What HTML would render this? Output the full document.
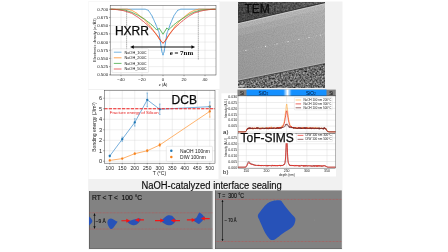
<!DOCTYPE html>
<html><head><meta charset="utf-8"><title>NaOH-catalyzed interface sealing</title>
<style>
html,body{margin:0;padding:0;background:#fff;}
body{width:448px;height:252px;overflow:hidden;}
svg{display:block;position:absolute;left:0;top:0;}
text{font-family:"Liberation Sans",sans-serif;fill:#1a1a1a;}
.ser{font-family:"Liberation Serif",serif;font-weight:bold;}
.t3{font-size:4.4px;}
.t4{font-size:5px;}
.t5{font-size:5.6px;}
.grid{stroke:#d4d4d4;stroke-width:0.4;fill:none;}
.ax{stroke:#444;stroke-width:0.5;fill:none;}
.big{font-size:12px;fill:#0a0a0a;stroke:#0a0a0a;stroke-width:0.25;}
.c{fill:none;stroke-linejoin:round;}
</style></head><body>
<svg width="448" height="252" viewBox="0 0 448 252">
<defs>
<filter id="noise" x="0" y="0" width="100%" height="100%">
<feTurbulence type="fractalNoise" baseFrequency="0.9" numOctaves="2" seed="3" result="n"/>
<feColorMatrix in="n" type="matrix" values="0 0 0 0 0  0 0 0 0 0  0 0 0 0 0  1.6 0 0 0 -0.45"/>
<feComposite in2="SourceGraphic" operator="in"/>
</filter>
<filter id="mot" x="0" y="0" width="100%" height="100%" color-interpolation-filters="sRGB">
<feTurbulence type="fractalNoise" baseFrequency="0.55" numOctaves="2" seed="7" result="n"/>
<feGaussianBlur in="n" stdDeviation="0.55" result="nb"/>
<feColorMatrix in="nb" type="matrix" values="0.95 0 0 0 -0.03  0.95 0 0 0 -0.03  0.95 0 0 0 -0.03  0 0 0 0 1"/>
<feComposite in2="SourceGraphic" operator="in"/>
</filter>
<filter id="mot2" x="0" y="0" width="100%" height="100%" color-interpolation-filters="sRGB">
<feTurbulence type="fractalNoise" baseFrequency="0.55" numOctaves="2" seed="11" result="n"/>
<feColorMatrix in="n" type="matrix" values="0.45 0 0 0 0.16  0.45 0 0 0 0.16  0.45 0 0 0 0.16  0 0 0 0 1"/>
<feComposite in2="SourceGraphic" operator="in"/>
</filter>
<linearGradient id="temg" x1="0" y1="1" x2="1" y2="0">
<stop offset="0" stop-color="#9a9a9a"/><stop offset="0.5" stop-color="#a6a6a6"/><stop offset="1" stop-color="#b4b4b4"/>
</linearGradient>
<linearGradient id="dk" x1="0" y1="0" x2="1" y2="0"><stop offset="0" stop-color="#000" stop-opacity="0.3"/><stop offset="0.6" stop-color="#000" stop-opacity="0.12"/><stop offset="1" stop-color="#000" stop-opacity="0"/></linearGradient>
<linearGradient id="glow" x1="0" x2="1" y1="0" y2="0">
<stop offset="0" stop-color="#1490ff"/><stop offset="0.46" stop-color="#1490ff"/><stop offset="0.512" stop-color="#ffffff"/><stop offset="0.565" stop-color="#1490ff"/><stop offset="1" stop-color="#1490ff"/>
</linearGradient>
<clipPath id="temclip"><rect x="238" y="2" width="87" height="86"/></clipPath>
<clipPath id="hx"><rect x="110.2" y="5.5" width="105.8" height="69.5"/></clipPath>
<clipPath id="dcbc"><rect x="104.4" y="90.5" width="110.6" height="72.7"/></clipPath>
<clipPath id="ta"><rect x="238" y="95.7" width="97.6" height="37.6"/></clipPath>
<clipPath id="tb"><rect x="238" y="133.3" width="97.6" height="35.2"/></clipPath>
<marker id="ah" viewBox="0 0 10 10" refX="9" refY="5" markerWidth="4" markerHeight="4" orient="auto-start-reverse"><path d="M0,0L10,5L0,10z" fill="#111"/></marker>
<marker id="rh" viewBox="0 0 10 10" refX="9" refY="5" markerWidth="3.2" markerHeight="3.2" orient="auto-start-reverse"><path d="M0,0L10,5L0,10z" fill="#f01818"/></marker>
</defs>

<rect x="88.2" y="1.5" width="254.3" height="248" fill="#f1f1f1"/>
<rect x="88.5" y="2" width="131" height="87" fill="#fff"/>
<line class="grid" x1="121.00" y1="5.5" x2="121.00" y2="75"/>
<line class="grid" x1="142.00" y1="5.5" x2="142.00" y2="75"/>
<line class="grid" x1="163.00" y1="5.5" x2="163.00" y2="75"/>
<line class="grid" x1="184.00" y1="5.5" x2="184.00" y2="75"/>
<line class="grid" x1="205.00" y1="5.5" x2="205.00" y2="75"/>
<line class="grid" x1="110.2" y1="74.85" x2="216" y2="74.85"/>
<line class="grid" x1="110.2" y1="66.65" x2="216" y2="66.65"/>
<line class="grid" x1="110.2" y1="58.45" x2="216" y2="58.45"/>
<line class="grid" x1="110.2" y1="50.25" x2="216" y2="50.25"/>
<line class="grid" x1="110.2" y1="42.05" x2="216" y2="42.05"/>
<line class="grid" x1="110.2" y1="33.85" x2="216" y2="33.85"/>
<line class="grid" x1="110.2" y1="25.65" x2="216" y2="25.65"/>
<line class="grid" x1="110.2" y1="17.45" x2="216" y2="17.45"/>
<line class="grid" x1="110.2" y1="9.25" x2="216" y2="9.25"/>
<path class="c" d="M110.5,9.2 L111.0,9.2 L111.5,9.2 L112.1,9.2 L112.6,9.2 L113.1,9.2 L113.7,9.2 L114.2,9.2 L114.7,9.2 L115.2,9.2 L115.8,9.2 L116.3,9.2 L116.8,9.2 L117.3,9.2 L117.8,9.2 L118.4,9.2 L118.9,9.2 L119.4,9.2 L119.9,9.2 L120.5,9.2 L121.0,9.2 L121.5,9.2 L122.0,9.2 L122.6,9.2 L123.1,9.2 L123.6,9.2 L124.2,9.2 L124.7,9.2 L125.2,9.2 L125.7,9.2 L126.2,9.2 L126.8,9.2 L127.3,9.2 L127.8,9.2 L128.3,9.2 L128.9,9.2 L129.4,9.2 L129.9,9.2 L130.4,9.2 L131.0,9.2 L131.5,9.2 L132.0,9.2 L132.6,9.2 L133.1,9.2 L133.6,9.2 L134.1,9.2 L134.7,9.2 L135.2,9.2 L135.7,9.2 L136.2,9.2 L136.8,9.2 L137.3,9.2 L137.8,9.2 L138.3,9.2 L138.8,9.2 L139.4,9.2 L139.9,9.2 L140.4,9.2 L140.9,9.2 L141.5,9.2 L142.0,9.2 L142.5,9.2 L143.1,9.2 L143.6,9.2 L144.1,9.2 L144.6,9.2 L145.2,9.2 L145.7,9.4 L146.2,9.6 L146.7,9.7 L147.2,9.9 L147.8,10.1 L148.3,10.2 L148.8,11.0 L149.3,11.8 L149.9,12.6 L150.4,13.4 L150.9,14.2 L151.4,15.0 L152.0,15.8 L152.5,17.0 L153.0,18.2 L153.6,19.3 L154.1,20.5 L154.6,21.7 L155.1,22.8 L155.7,24.0 L156.2,25.3 L156.7,26.6 L157.2,27.9 L157.8,29.1 L158.3,30.5 L158.8,31.8 L159.3,33.7 L159.8,37.9 L160.4,42.0 L160.9,45.3 L161.4,48.6 L161.9,51.9 L162.5,53.5 L163.0,55.2 L163.5,53.5 L164.1,51.9 L164.6,48.6 L165.1,45.3 L165.6,42.0 L166.2,38.2 L166.7,34.3 L167.2,32.6 L167.7,31.4 L168.2,30.0 L168.8,28.5 L169.3,27.0 L169.8,25.5 L170.3,24.0 L170.9,22.8 L171.4,21.6 L171.9,20.4 L172.4,19.1 L173.0,17.9 L173.5,16.7 L174.0,15.5 L174.6,14.7 L175.1,14.0 L175.6,13.2 L176.1,12.5 L176.7,11.7 L177.2,11.0 L177.7,10.2 L178.2,10.1 L178.8,9.9 L179.3,9.7 L179.8,9.6 L180.3,9.4 L180.8,9.2 L181.4,9.2 L181.9,9.2 L182.4,9.2 L182.9,9.2 L183.5,9.2 L184.0,9.2 L184.5,9.2 L185.1,9.2 L185.6,9.2 L186.1,9.2 L186.6,9.2 L187.2,9.2 L187.7,9.2 L188.2,9.2 L188.7,9.2 L189.2,9.2 L189.8,9.2 L190.3,9.2 L190.8,9.2 L191.3,9.2 L191.9,9.2 L192.4,9.2 L192.9,9.2 L193.4,9.2 L194.0,9.2 L194.5,9.2 L195.0,9.2 L195.6,9.2 L196.1,9.2 L196.6,9.2 L197.1,9.2 L197.7,9.2 L198.2,9.2 L198.7,9.2 L199.2,9.2 L199.8,9.2 L200.3,9.2 L200.8,9.2 L201.3,9.2 L201.8,9.2 L202.4,9.2 L202.9,9.2 L203.4,9.2 L203.9,9.2 L204.5,9.2 L205.0,9.2 L205.5,9.2 L206.1,9.2 L206.6,9.2 L207.1,9.2 L207.6,9.2 L208.2,9.2 L208.7,9.2 L209.2,9.2 L209.7,9.2 L210.2,9.2 L210.8,9.2 L211.3,9.2 L211.8,9.2 L212.3,9.2 L212.9,9.2 L213.4,9.2 L213.9,9.2 L214.4,9.2 L215.0,9.2 L215.5,9.2" stroke="#4a9bd6" stroke-width="0.9" clip-path="url(#hx)"/>
<path class="c" d="M110.5,9.2 L111.0,9.2 L111.5,9.2 L112.1,9.2 L112.6,9.2 L113.1,9.2 L113.7,9.2 L114.2,9.2 L114.7,9.2 L115.2,9.2 L115.8,9.2 L116.3,9.2 L116.8,9.2 L117.3,9.2 L117.8,9.2 L118.4,9.2 L118.9,9.2 L119.4,9.2 L119.9,9.2 L120.5,9.2 L121.0,9.2 L121.5,9.2 L122.0,9.2 L122.6,9.2 L123.1,9.2 L123.6,9.2 L124.2,9.2 L124.7,9.2 L125.2,9.2 L125.7,9.2 L126.2,9.2 L126.8,9.2 L127.3,9.2 L127.8,9.4 L128.3,9.5 L128.9,9.6 L129.4,9.7 L129.9,9.9 L130.4,10.0 L131.0,10.1 L131.5,10.2 L132.0,10.5 L132.6,10.8 L133.1,11.1 L133.6,11.4 L134.1,11.7 L134.7,12.0 L135.2,12.3 L135.7,12.6 L136.2,12.9 L136.8,13.2 L137.3,13.6 L137.8,14.1 L138.3,14.5 L138.8,15.0 L139.4,15.4 L139.9,15.9 L140.4,16.3 L140.9,16.7 L141.5,17.2 L142.0,17.6 L142.5,18.1 L143.1,18.5 L143.6,19.0 L144.1,19.4 L144.6,20.0 L145.2,20.6 L145.7,21.1 L146.2,21.7 L146.7,22.3 L147.2,22.9 L147.8,23.4 L148.3,24.0 L148.8,24.6 L149.3,25.2 L149.9,25.7 L150.4,26.3 L150.9,27.0 L151.4,27.7 L152.0,28.5 L152.5,29.2 L153.0,29.9 L153.6,30.6 L154.1,31.4 L154.6,32.1 L155.1,32.8 L155.7,33.5 L156.2,34.3 L156.7,35.1 L157.2,35.9 L157.8,36.6 L158.3,37.4 L158.8,38.2 L159.3,39.0 L159.8,39.8 L160.4,40.3 L160.9,40.8 L161.4,41.4 L161.9,41.9 L162.5,42.5 L163.0,43.0 L163.5,42.5 L164.1,41.9 L164.6,41.4 L165.1,40.8 L165.6,40.3 L166.2,39.8 L166.7,38.9 L167.2,38.0 L167.7,37.2 L168.2,36.3 L168.8,35.4 L169.3,34.6 L169.8,33.7 L170.3,32.9 L170.9,32.1 L171.4,31.4 L171.9,30.7 L172.4,30.0 L173.0,29.3 L173.5,28.5 L174.0,27.8 L174.6,27.1 L175.1,26.4 L175.6,25.6 L176.1,25.1 L176.7,24.5 L177.2,23.9 L177.7,23.4 L178.2,22.8 L178.8,22.2 L179.3,21.6 L179.8,21.1 L180.3,20.5 L180.8,19.9 L181.4,19.3 L181.9,18.8 L182.4,18.3 L182.9,17.9 L183.5,17.5 L184.0,17.1 L184.5,16.7 L185.1,16.2 L185.6,15.8 L186.1,15.4 L186.6,15.0 L187.2,14.5 L187.7,14.1 L188.2,13.7 L188.7,13.3 L189.2,12.9 L189.8,12.6 L190.3,12.3 L190.8,12.1 L191.3,11.8 L191.9,11.5 L192.4,11.3 L192.9,11.0 L193.4,10.8 L194.0,10.5 L194.5,10.2 L195.0,10.1 L195.6,10.0 L196.1,9.9 L196.6,9.7 L197.1,9.6 L197.7,9.5 L198.2,9.4 L198.7,9.2 L199.2,9.2 L199.8,9.2 L200.3,9.2 L200.8,9.2 L201.3,9.2 L201.8,9.2 L202.4,9.2 L202.9,9.2 L203.4,9.2 L203.9,9.2 L204.5,9.2 L205.0,9.2 L205.5,9.2 L206.1,9.2 L206.6,9.2 L207.1,9.2 L207.6,9.2 L208.2,9.2 L208.7,9.2 L209.2,9.2 L209.7,9.2 L210.2,9.2 L210.8,9.2 L211.3,9.2 L211.8,9.2 L212.3,9.2 L212.9,9.2 L213.4,9.2 L213.9,9.2 L214.4,9.2 L215.0,9.2 L215.5,9.2" stroke="#ff8a1e" stroke-width="0.9" clip-path="url(#hx)"/>
<path class="c" d="M110.5,9.2 L111.0,9.3 L111.5,9.3 L112.1,9.3 L112.6,9.3 L113.1,9.4 L113.7,9.4 L114.2,9.4 L114.7,9.4 L115.2,9.4 L115.8,9.5 L116.3,9.5 L116.8,9.5 L117.3,9.5 L117.8,9.5 L118.4,9.6 L118.9,9.6 L119.4,9.6 L119.9,9.7 L120.5,9.7 L121.0,9.8 L121.5,9.9 L122.0,9.9 L122.6,10.0 L123.1,10.0 L123.6,10.1 L124.2,10.1 L124.7,10.2 L125.2,10.2 L125.7,10.4 L126.2,10.6 L126.8,10.7 L127.3,10.9 L127.8,11.1 L128.3,11.2 L128.9,11.4 L129.4,11.5 L129.9,11.7 L130.4,11.9 L131.0,12.0 L131.5,12.2 L132.0,12.4 L132.6,12.7 L133.1,12.9 L133.6,13.2 L134.1,13.4 L134.7,13.7 L135.2,13.9 L135.7,14.2 L136.2,14.4 L136.8,14.7 L137.3,14.9 L137.8,15.2 L138.3,15.5 L138.8,15.8 L139.4,16.1 L139.9,16.4 L140.4,16.7 L140.9,17.0 L141.5,17.3 L142.0,17.6 L142.5,17.9 L143.1,18.2 L143.6,18.5 L144.1,18.8 L144.6,19.2 L145.2,19.6 L145.7,20.0 L146.2,20.4 L146.7,20.8 L147.2,21.3 L147.8,21.7 L148.3,22.1 L148.8,22.5 L149.3,22.9 L149.9,23.3 L150.4,23.7 L150.9,24.2 L151.4,24.6 L152.0,25.0 L152.5,25.6 L153.0,26.1 L153.6,26.7 L154.1,27.2 L154.6,27.8 L155.1,28.4 L155.7,28.9 L156.2,29.3 L156.7,29.6 L157.2,29.9 L157.8,29.5 L158.3,29.1 L158.8,28.6 L159.3,28.4 L159.8,29.3 L160.4,30.1 L160.9,30.9 L161.4,31.7 L161.9,32.5 L162.5,33.4 L163.0,34.2 L163.5,33.4 L164.1,32.5 L164.6,31.7 L165.1,30.9 L165.6,30.0 L166.2,29.1 L166.7,28.1 L167.2,28.3 L167.7,28.7 L168.2,29.2 L168.8,29.6 L169.3,29.1 L169.8,28.7 L170.3,28.3 L170.9,27.7 L171.4,27.2 L171.9,26.6 L172.4,26.1 L173.0,25.5 L173.5,25.0 L174.0,24.6 L174.6,24.2 L175.1,23.8 L175.6,23.4 L176.1,22.9 L176.7,22.5 L177.2,22.1 L177.7,21.7 L178.2,21.4 L178.8,21.1 L179.3,20.7 L179.8,20.4 L180.3,20.1 L180.8,19.7 L181.4,19.4 L181.9,19.1 L182.4,18.7 L182.9,18.4 L183.5,18.0 L184.0,17.7 L184.5,17.3 L185.1,17.0 L185.6,16.6 L186.1,16.2 L186.6,15.9 L187.2,15.5 L187.7,15.2 L188.2,14.8 L188.7,14.6 L189.2,14.3 L189.8,14.1 L190.3,13.8 L190.8,13.6 L191.3,13.3 L191.9,13.1 L192.4,12.9 L192.9,12.6 L193.4,12.4 L194.0,12.1 L194.5,11.9 L195.0,11.7 L195.6,11.6 L196.1,11.5 L196.6,11.3 L197.1,11.2 L197.7,11.1 L198.2,10.9 L198.7,10.8 L199.2,10.6 L199.8,10.5 L200.3,10.4 L200.8,10.2 L201.3,10.2 L201.8,10.1 L202.4,10.1 L202.9,10.0 L203.4,10.0 L203.9,9.9 L204.5,9.9 L205.0,9.8 L205.5,9.7 L206.1,9.7 L206.6,9.6 L207.1,9.6 L207.6,9.6 L208.2,9.5 L208.7,9.5 L209.2,9.5 L209.7,9.5 L210.2,9.5 L210.8,9.4 L211.3,9.4 L211.8,9.4 L212.3,9.4 L212.9,9.4 L213.4,9.3 L213.9,9.3 L214.4,9.3 L215.0,9.3 L215.5,9.2" stroke="#3aa63a" stroke-width="0.9" clip-path="url(#hx)"/>
<path class="c" d="M110.5,9.2 L111.0,9.3 L111.5,9.3 L112.1,9.3 L112.6,9.4 L113.1,9.4 L113.7,9.4 L114.2,9.4 L114.7,9.5 L115.2,9.5 L115.8,9.5 L116.3,9.6 L116.8,9.6 L117.3,9.7 L117.8,9.7 L118.4,9.8 L118.9,9.9 L119.4,10.0 L119.9,10.1 L120.5,10.2 L121.0,10.2 L121.5,10.3 L122.0,10.4 L122.6,10.5 L123.1,10.6 L123.6,10.7 L124.2,10.9 L124.7,11.1 L125.2,11.2 L125.7,11.4 L126.2,11.5 L126.8,11.7 L127.3,11.9 L127.8,12.0 L128.3,12.2 L128.9,12.4 L129.4,12.5 L129.9,12.7 L130.4,12.9 L131.0,13.0 L131.5,13.2 L132.0,13.5 L132.6,13.8 L133.1,14.2 L133.6,14.5 L134.1,14.8 L134.7,15.2 L135.2,15.5 L135.7,15.8 L136.2,16.1 L136.8,16.5 L137.3,16.8 L137.8,17.1 L138.3,17.5 L138.8,17.9 L139.4,18.4 L139.9,18.8 L140.4,19.2 L140.9,19.6 L141.5,20.0 L142.0,20.4 L142.5,20.8 L143.1,21.2 L143.6,21.6 L144.1,22.0 L144.6,22.5 L145.2,23.0 L145.7,23.5 L146.2,24.0 L146.7,24.4 L147.2,24.9 L147.8,25.4 L148.3,25.9 L148.8,26.4 L149.3,26.9 L149.9,27.3 L150.4,27.8 L150.9,28.3 L151.4,28.8 L152.0,29.3 L152.5,29.9 L153.0,30.5 L153.6,31.1 L154.1,31.8 L154.6,32.4 L155.1,33.0 L155.7,33.6 L156.2,34.3 L156.7,34.9 L157.2,35.5 L157.8,36.1 L158.3,37.0 L158.8,37.8 L159.3,38.6 L159.8,39.4 L160.4,40.2 L160.9,41.1 L161.4,41.6 L161.9,42.2 L162.5,42.8 L163.0,43.4 L163.5,42.8 L164.1,42.2 L164.6,41.6 L165.1,41.1 L165.6,40.2 L166.2,39.3 L166.7,38.4 L167.2,37.6 L167.7,36.7 L168.2,35.8 L168.8,35.2 L169.3,34.5 L169.8,33.8 L170.3,33.2 L170.9,32.5 L171.4,31.9 L171.9,31.2 L172.4,30.6 L173.0,29.9 L173.5,29.3 L174.0,28.6 L174.6,28.1 L175.1,27.6 L175.6,27.2 L176.1,26.7 L176.7,26.2 L177.2,25.7 L177.7,25.2 L178.2,24.8 L178.8,24.3 L179.3,23.8 L179.8,23.3 L180.3,22.8 L180.8,22.3 L181.4,21.9 L181.9,21.4 L182.4,21.0 L182.9,20.6 L183.5,20.2 L184.0,19.7 L184.5,19.3 L185.1,18.9 L185.6,18.5 L186.1,18.1 L186.6,17.7 L187.2,17.3 L187.7,16.9 L188.2,16.5 L188.7,16.2 L189.2,15.9 L189.8,15.6 L190.3,15.3 L190.8,15.0 L191.3,14.7 L191.9,14.4 L192.4,14.1 L192.9,13.8 L193.4,13.5 L194.0,13.2 L194.5,12.9 L195.0,12.7 L195.6,12.6 L196.1,12.4 L196.6,12.3 L197.1,12.1 L197.7,12.0 L198.2,11.9 L198.7,11.7 L199.2,11.6 L199.8,11.4 L200.3,11.3 L200.8,11.1 L201.3,11.0 L201.8,10.8 L202.4,10.7 L202.9,10.6 L203.4,10.5 L203.9,10.4 L204.5,10.3 L205.0,10.2 L205.5,10.2 L206.1,10.1 L206.6,10.0 L207.1,9.9 L207.6,9.8 L208.2,9.7 L208.7,9.7 L209.2,9.6 L209.7,9.6 L210.2,9.5 L210.8,9.5 L211.3,9.5 L211.8,9.4 L212.3,9.4 L212.9,9.4 L213.4,9.4 L213.9,9.3 L214.4,9.3 L215.0,9.3 L215.5,9.2" stroke="#de3a3a" stroke-width="0.9" clip-path="url(#hx)"/>
<line x1="126.6" y1="10.5" x2="126.6" y2="60" stroke="#333" stroke-width="0.7" stroke-dasharray="0.8,1.2"/>
<line x1="198.3" y1="10.5" x2="198.3" y2="60" stroke="#333" stroke-width="0.7" stroke-dasharray="0.8,1.2"/>
<rect class="ax" x="110.2" y="5.5" width="105.8" height="69.5"/>
<line class="ax" x1="109" y1="74.85" x2="110.2" y2="74.85"/>
<text class="t3" x="108.2" y="76.40" text-anchor="end">0.500</text>
<line class="ax" x1="109" y1="66.65" x2="110.2" y2="66.65"/>
<text class="t3" x="108.2" y="68.20" text-anchor="end">0.525</text>
<line class="ax" x1="109" y1="58.45" x2="110.2" y2="58.45"/>
<text class="t3" x="108.2" y="60.00" text-anchor="end">0.550</text>
<line class="ax" x1="109" y1="50.25" x2="110.2" y2="50.25"/>
<text class="t3" x="108.2" y="51.80" text-anchor="end">0.575</text>
<line class="ax" x1="109" y1="42.05" x2="110.2" y2="42.05"/>
<text class="t3" x="108.2" y="43.60" text-anchor="end">0.600</text>
<line class="ax" x1="109" y1="33.85" x2="110.2" y2="33.85"/>
<text class="t3" x="108.2" y="35.40" text-anchor="end">0.625</text>
<line class="ax" x1="109" y1="25.65" x2="110.2" y2="25.65"/>
<text class="t3" x="108.2" y="27.20" text-anchor="end">0.650</text>
<line class="ax" x1="109" y1="17.45" x2="110.2" y2="17.45"/>
<text class="t3" x="108.2" y="19.00" text-anchor="end">0.675</text>
<line class="ax" x1="109" y1="9.25" x2="110.2" y2="9.25"/>
<text class="t3" x="108.2" y="10.80" text-anchor="end">0.700</text>
<line class="ax" x1="121.00" y1="75" x2="121.00" y2="76.2"/>
<text class="t3" x="121.00" y="80.6" text-anchor="middle">−40</text>
<line class="ax" x1="142.00" y1="75" x2="142.00" y2="76.2"/>
<text class="t3" x="142.00" y="80.6" text-anchor="middle">−20</text>
<line class="ax" x1="163.00" y1="75" x2="163.00" y2="76.2"/>
<text class="t3" x="163.00" y="80.6" text-anchor="middle">0</text>
<line class="ax" x1="184.00" y1="75" x2="184.00" y2="76.2"/>
<text class="t3" x="184.00" y="80.6" text-anchor="middle">20</text>
<line class="ax" x1="205.00" y1="75" x2="205.00" y2="76.2"/>
<text class="t3" x="205.00" y="80.6" text-anchor="middle">40</text>
<text class="t3" x="163" y="85.6" text-anchor="middle" style="font-size:4px">z (Å)</text>
<text class="t3" transform="translate(95.6,40) rotate(-90)" text-anchor="middle" style="font-size:3.9px">Electronic density (e-/Å3)</text>
<rect x="112" y="48.8" width="36.5" height="23.8" rx="0.8" fill="#fff" fill-opacity="0.85" stroke="#ccc" stroke-width="0.4"/>
<line x1="113.8" y1="52.20" x2="121.5" y2="52.20" stroke="#4a9bd6" stroke-width="0.75"/>
<text class="t3" x="124.4" y="53.60" style="font-size:3.9px">NaOH_100C</text>
<line x1="113.8" y1="57.80" x2="121.5" y2="57.80" stroke="#ff8a1e" stroke-width="0.75"/>
<text class="t3" x="124.4" y="59.20" style="font-size:3.9px">NaOH_200C</text>
<line x1="113.8" y1="63.40" x2="121.5" y2="63.40" stroke="#3aa63a" stroke-width="0.75"/>
<text class="t3" x="124.4" y="64.80" style="font-size:3.9px">NaOH_300C</text>
<line x1="113.8" y1="69.00" x2="121.5" y2="69.00" stroke="#de3a3a" stroke-width="0.75"/>
<text class="t3" x="124.4" y="70.40" style="font-size:3.9px">NaOH_500C</text>
<path d="M130.1,47 L133.8,45.2 L133.8,46.45 L191.4,46.45 L191.4,45.2 L195.1,47 L191.4,48.8 L191.4,47.55 L133.8,47.55 L133.8,48.8z" fill="#0a0a0a"/>
<text class="ser" x="181.4" y="55.3" font-size="6.9" text-anchor="middle" style="fill:#0a0a0a">e = 7nm</text>
<text class="big" x="114.9" y="34.7">HXRR</text>
<g clip-path="url(#temclip)">
<rect x="238" y="2" width="87" height="86" fill="url(#temg)"/>
<polygon points="238,23 325,3 325,9 238,29" fill="#c4c4c4" fill-opacity="0.55"/>
<polygon points="238,28 325,8 325,16 238,36" fill="#b8b8b8" fill-opacity="0.35"/>
<polygon points="238,2 325,2 325,3 238,23" fill="#5c5c5c" filter="url(#mot2)"/>
<polygon points="238,2 325,2 325,3 238,23" fill="url(#dk)"/>
<polygon points="238,22.1 325,2.1 325,3.3 238,23.3" fill="#333" fill-opacity="0.8"/>
<polygon points="238,23.3 325,3.3 325,4.3 238,24.3" fill="#e0e0e0" fill-opacity="0.7"/>
<polygon points="238,81.3 325,63.8 325,88 238,88" fill="#6e6e6e" filter="url(#mot)"/>
<polygon points="238,80.5 325,63 325,64.2 238,81.7" fill="#3c3c3c" fill-opacity="0.75"/>
<polygon points="238,79.7 325,62.2 325,63 238,80.5" fill="#d8d8d8" fill-opacity="0.6"/>
<circle cx="237.74" cy="51.80" r="0.3" fill="#fff" fill-opacity="0.49"/>
<circle cx="240.23" cy="51.22" r="0.4" fill="#fff" fill-opacity="0.62"/>
<circle cx="243.54" cy="50.78" r="0.4" fill="#fff" fill-opacity="0.41"/>
<circle cx="245.58" cy="50.18" r="0.35" fill="#fff" fill-opacity="0.68"/>
<circle cx="248.07" cy="49.90" r="0.4" fill="#fff" fill-opacity="0.62"/>
<circle cx="250.88" cy="49.19" r="0.4" fill="#fff" fill-opacity="0.33"/>
<circle cx="253.92" cy="48.83" r="0.35" fill="#fff" fill-opacity="0.37"/>
<circle cx="256.43" cy="48.00" r="0.4" fill="#fff" fill-opacity="0.30"/>
<circle cx="258.88" cy="47.76" r="0.4" fill="#fff" fill-opacity="0.64"/>
<circle cx="261.74" cy="47.08" r="0.4" fill="#fff" fill-opacity="0.47"/>
<circle cx="264.02" cy="46.48" r="0.3" fill="#fff" fill-opacity="0.33"/>
<circle cx="266.96" cy="46.28" r="0.3" fill="#fff" fill-opacity="0.58"/>
<circle cx="269.28" cy="45.58" r="0.3" fill="#fff" fill-opacity="0.47"/>
<circle cx="271.98" cy="45.01" r="0.4" fill="#fff" fill-opacity="0.37"/>
<circle cx="274.85" cy="44.45" r="0.35" fill="#fff" fill-opacity="0.66"/>
<circle cx="277.15" cy="43.64" r="0.35" fill="#fff" fill-opacity="0.41"/>
<circle cx="280.26" cy="43.50" r="0.3" fill="#fff" fill-opacity="0.43"/>
<circle cx="282.50" cy="42.76" r="0.3" fill="#fff" fill-opacity="0.44"/>
<circle cx="285.04" cy="42.47" r="0.4" fill="#fff" fill-opacity="0.59"/>
<circle cx="288.55" cy="41.45" r="0.4" fill="#fff" fill-opacity="0.43"/>
<circle cx="290.38" cy="41.23" r="0.3" fill="#fff" fill-opacity="0.42"/>
<circle cx="293.06" cy="40.58" r="0.35" fill="#fff" fill-opacity="0.40"/>
<circle cx="296.10" cy="39.90" r="0.3" fill="#fff" fill-opacity="0.45"/>
<circle cx="298.59" cy="39.46" r="0.4" fill="#fff" fill-opacity="0.70"/>
<circle cx="301.34" cy="38.95" r="0.35" fill="#fff" fill-opacity="0.47"/>
<circle cx="303.62" cy="38.22" r="0.3" fill="#fff" fill-opacity="0.59"/>
<circle cx="306.64" cy="38.13" r="0.3" fill="#fff" fill-opacity="0.52"/>
<circle cx="309.26" cy="37.27" r="0.3" fill="#fff" fill-opacity="0.35"/>
<circle cx="311.85" cy="36.95" r="0.3" fill="#fff" fill-opacity="0.56"/>
<circle cx="314.15" cy="36.12" r="0.3" fill="#fff" fill-opacity="0.46"/>
<circle cx="316.63" cy="35.69" r="0.35" fill="#fff" fill-opacity="0.56"/>
<circle cx="319.66" cy="35.04" r="0.35" fill="#fff" fill-opacity="0.31"/>
<circle cx="322.12" cy="34.51" r="0.35" fill="#fff" fill-opacity="0.61"/>
<circle cx="324.92" cy="33.98" r="0.4" fill="#fff" fill-opacity="0.32"/>
<circle cx="265.5" cy="46.4" r="0.55" fill="#fff" fill-opacity="0.85"/>
<circle cx="288" cy="41.6" r="0.55" fill="#fff" fill-opacity="0.85"/>
<circle cx="299" cy="39.3" r="0.55" fill="#fff" fill-opacity="0.85"/>
<circle cx="320.5" cy="35" r="0.55" fill="#fff" fill-opacity="0.85"/>
<circle cx="277" cy="44" r="0.55" fill="#fff" fill-opacity="0.85"/>
<circle cx="309" cy="37.4" r="0.55" fill="#fff" fill-opacity="0.85"/>
<circle cx="246" cy="50.3" r="0.55" fill="#fff" fill-opacity="0.85"/>
<rect x="238" y="2" width="87" height="86" fill="#000" filter="url(#noise)" opacity="0.10"/>
<rect x="239.5" y="85.2" width="5" height="1.6" fill="#ddd" fill-opacity="0.8"/>
</g>
<text class="big" x="244.4" y="12.6">TEM</text>
<rect x="88.5" y="90" width="130" height="89" fill="#fff"/>
<line class="grid" x1="109.75" y1="90.5" x2="109.75" y2="163.2"/>
<line class="grid" x1="122.25" y1="90.5" x2="122.25" y2="163.2"/>
<line class="grid" x1="134.75" y1="90.5" x2="134.75" y2="163.2"/>
<line class="grid" x1="147.25" y1="90.5" x2="147.25" y2="163.2"/>
<line class="grid" x1="159.75" y1="90.5" x2="159.75" y2="163.2"/>
<line class="grid" x1="172.25" y1="90.5" x2="172.25" y2="163.2"/>
<line class="grid" x1="184.75" y1="90.5" x2="184.75" y2="163.2"/>
<line class="grid" x1="197.25" y1="90.5" x2="197.25" y2="163.2"/>
<line class="grid" x1="209.75" y1="90.5" x2="209.75" y2="163.2"/>
<line class="grid" x1="104.4" y1="161.25" x2="215" y2="161.25"/>
<line class="grid" x1="104.4" y1="150.75" x2="215" y2="150.75"/>
<line class="grid" x1="104.4" y1="140.25" x2="215" y2="140.25"/>
<line class="grid" x1="104.4" y1="129.75" x2="215" y2="129.75"/>
<line class="grid" x1="104.4" y1="119.25" x2="215" y2="119.25"/>
<line class="grid" x1="104.4" y1="108.75" x2="215" y2="108.75"/>
<line class="grid" x1="104.4" y1="98.25" x2="215" y2="98.25"/>
<text x="109.8" y="114" font-size="4.3" style="fill:#e62020">Fracture energy of Silicon</text>
<path d="M109.75,156.00 L122.25,139.20 L134.75,122.40 L147.25,99.83 L159.75,109.28 L209.75,106.65" fill="none" stroke="#4c96d0" stroke-width="0.75"/>
<path d="M109.75,156.84 V155.16 M108.95,156.84 h1.6 M108.95,155.16 h1.6" stroke="#4c96d0" stroke-width="0.55" fill="none"/>
<circle cx="109.75" cy="156.00" r="1.15" fill="#1f77b4"/>
<path d="M122.25,141.30 V137.10 M121.45,141.30 h1.6 M121.45,137.10 h1.6" stroke="#4c96d0" stroke-width="0.55" fill="none"/>
<circle cx="122.25" cy="139.20" r="1.15" fill="#1f77b4"/>
<path d="M134.75,126.07 V118.72 M133.95,126.07 h1.6 M133.95,118.72 h1.6" stroke="#4c96d0" stroke-width="0.55" fill="none"/>
<circle cx="134.75" cy="122.40" r="1.15" fill="#1f77b4"/>
<path d="M147.25,106.65 V93.00 M146.45,106.65 h1.6 M146.45,93.00 h1.6" stroke="#4c96d0" stroke-width="0.55" fill="none"/>
<circle cx="147.25" cy="99.83" r="1.15" fill="#1f77b4"/>
<path d="M159.75,114.53 V104.03 M158.95,114.53 h1.6 M158.95,104.03 h1.6" stroke="#4c96d0" stroke-width="0.55" fill="none"/>
<circle cx="159.75" cy="109.28" r="1.15" fill="#1f77b4"/>
<path d="M209.75,111.38 V101.92 M208.95,111.38 h1.6 M208.95,101.92 h1.6" stroke="#4c96d0" stroke-width="0.55" fill="none"/>
<circle cx="209.75" cy="106.65" r="1.15" fill="#1f77b4"/>
<path d="M109.75,160.41 L122.25,158.62 L134.75,153.69 L147.25,150.75 L159.75,144.97 L209.75,111.38" fill="none" stroke="#ff9a3c" stroke-width="0.75"/>
<path d="M109.75,160.94 V159.88 M108.95,160.94 h1.6 M108.95,159.88 h1.6" stroke="#ff9a3c" stroke-width="0.55" fill="none"/>
<circle cx="109.75" cy="160.41" r="1.15" fill="#f5821e"/>
<path d="M122.25,159.15 V158.10 M121.45,159.15 h1.6 M121.45,158.10 h1.6" stroke="#ff9a3c" stroke-width="0.55" fill="none"/>
<circle cx="122.25" cy="158.62" r="1.15" fill="#f5821e"/>
<path d="M134.75,154.53 V152.85 M133.95,154.53 h1.6 M133.95,152.85 h1.6" stroke="#ff9a3c" stroke-width="0.55" fill="none"/>
<circle cx="134.75" cy="153.69" r="1.15" fill="#f5821e"/>
<path d="M147.25,151.80 V149.70 M146.45,151.80 h1.6 M146.45,149.70 h1.6" stroke="#ff9a3c" stroke-width="0.55" fill="none"/>
<circle cx="147.25" cy="150.75" r="1.15" fill="#f5821e"/>
<path d="M159.75,146.55 V143.40 M158.95,146.55 h1.6 M158.95,143.40 h1.6" stroke="#ff9a3c" stroke-width="0.55" fill="none"/>
<circle cx="159.75" cy="144.97" r="1.15" fill="#f5821e"/>
<path d="M209.75,117.15 V105.60 M208.95,117.15 h1.6 M208.95,105.60 h1.6" stroke="#ff9a3c" stroke-width="0.55" fill="none"/>
<circle cx="209.75" cy="111.38" r="1.15" fill="#f5821e"/>
<line x1="104.4" y1="108.75" x2="215" y2="108.75" stroke="#f02020" stroke-width="1.2" stroke-dasharray="3.2,1.2"/>
<rect class="ax" x="104.4" y="90.5" width="110.6" height="72.7"/>
<line class="ax" x1="103.2" y1="161.25" x2="104.4" y2="161.25"/>
<text class="t5" x="102.2" y="163.15" text-anchor="end">0</text>
<line class="ax" x1="103.2" y1="150.75" x2="104.4" y2="150.75"/>
<text class="t5" x="102.2" y="152.65" text-anchor="end">1</text>
<line class="ax" x1="103.2" y1="140.25" x2="104.4" y2="140.25"/>
<text class="t5" x="102.2" y="142.15" text-anchor="end">2</text>
<line class="ax" x1="103.2" y1="129.75" x2="104.4" y2="129.75"/>
<text class="t5" x="102.2" y="131.65" text-anchor="end">3</text>
<line class="ax" x1="103.2" y1="119.25" x2="104.4" y2="119.25"/>
<text class="t5" x="102.2" y="121.15" text-anchor="end">4</text>
<line class="ax" x1="103.2" y1="108.75" x2="104.4" y2="108.75"/>
<text class="t5" x="102.2" y="110.65" text-anchor="end">5</text>
<line class="ax" x1="103.2" y1="98.25" x2="104.4" y2="98.25"/>
<text class="t5" x="102.2" y="100.15" text-anchor="end">6</text>
<line class="ax" x1="109.75" y1="163.2" x2="109.75" y2="164.4"/>
<text class="t4" x="109.75" y="169.8" text-anchor="middle">100</text>
<line class="ax" x1="122.25" y1="163.2" x2="122.25" y2="164.4"/>
<text class="t4" x="122.25" y="169.8" text-anchor="middle">150</text>
<line class="ax" x1="134.75" y1="163.2" x2="134.75" y2="164.4"/>
<text class="t4" x="134.75" y="169.8" text-anchor="middle">200</text>
<line class="ax" x1="147.25" y1="163.2" x2="147.25" y2="164.4"/>
<text class="t4" x="147.25" y="169.8" text-anchor="middle">250</text>
<line class="ax" x1="159.75" y1="163.2" x2="159.75" y2="164.4"/>
<text class="t4" x="159.75" y="169.8" text-anchor="middle">300</text>
<line class="ax" x1="172.25" y1="163.2" x2="172.25" y2="164.4"/>
<text class="t4" x="172.25" y="169.8" text-anchor="middle">350</text>
<line class="ax" x1="184.75" y1="163.2" x2="184.75" y2="164.4"/>
<text class="t4" x="184.75" y="169.8" text-anchor="middle">400</text>
<line class="ax" x1="197.25" y1="163.2" x2="197.25" y2="164.4"/>
<text class="t4" x="197.25" y="169.8" text-anchor="middle">450</text>
<line class="ax" x1="209.75" y1="163.2" x2="209.75" y2="164.4"/>
<text class="t4" x="209.75" y="169.8" text-anchor="middle">500</text>
<text class="t4" x="159.5" y="175.4" text-anchor="middle">T (°C)</text>
<text class="t4" transform="translate(95.5,127) rotate(-90)" text-anchor="middle">Bonding energy (J/m²)</text>
<rect x="166.3" y="146.3" width="46.2" height="15" rx="0.8" fill="#fff" fill-opacity="0.9" stroke="#ccc" stroke-width="0.4"/>
<circle cx="171.3" cy="150.8" r="1.25" fill="#1f77b4"/><text class="t4" x="180" y="152.5" style="font-size:4.9px">NaOH 100nm</text>
<circle cx="171.3" cy="157" r="1.25" fill="#f5821e"/><text class="t4" x="180" y="158.7" style="font-size:4.9px">DIW 100nm</text>
<text class="big" x="171.6" y="103.5">DCB</text>
<rect x="221.4" y="93.3" width="114.6" height="83.2" fill="#fff"/>
<rect x="237.5" y="89.6" width="98.3" height="6.5" fill="#808080"/>
<rect x="246.5" y="89.6" width="80" height="6.5" fill="url(#glow)"/>
<text x="242" y="94.6" font-size="4.6" text-anchor="middle" style="fill:#0a0a0a">Si</text>
<text x="331.2" y="94.6" font-size="4.6" text-anchor="middle" style="fill:#0a0a0a">Si</text>
<text x="263.5" y="94.5" font-size="4.8" text-anchor="middle" style="fill:#06102a">SiO<tspan font-size="3.2" dy="0.9">2</tspan></text>
<text x="311" y="94.5" font-size="4.8" text-anchor="middle" style="fill:#06102a">SiO<tspan font-size="3.2" dy="0.9">2</tspan></text>
<line class="grid" x1="246.30" y1="95.7" x2="246.30" y2="133.3"/>
<line class="grid" x1="246.30" y1="133.3" x2="246.30" y2="168.5"/>
<line class="grid" x1="266.48" y1="95.7" x2="266.48" y2="133.3"/>
<line class="grid" x1="266.48" y1="133.3" x2="266.48" y2="168.5"/>
<line class="grid" x1="286.65" y1="95.7" x2="286.65" y2="133.3"/>
<line class="grid" x1="286.65" y1="133.3" x2="286.65" y2="168.5"/>
<line class="grid" x1="306.83" y1="95.7" x2="306.83" y2="133.3"/>
<line class="grid" x1="306.83" y1="133.3" x2="306.83" y2="168.5"/>
<line class="grid" x1="327.00" y1="95.7" x2="327.00" y2="133.3"/>
<line class="grid" x1="327.00" y1="133.3" x2="327.00" y2="168.5"/>
<line class="grid" x1="238" y1="132.00" x2="335.6" y2="132.00"/>
<line class="grid" x1="238" y1="126.10" x2="335.6" y2="126.10"/>
<line class="grid" x1="238" y1="120.20" x2="335.6" y2="120.20"/>
<line class="grid" x1="238" y1="114.30" x2="335.6" y2="114.30"/>
<line class="grid" x1="238" y1="108.40" x2="335.6" y2="108.40"/>
<line class="grid" x1="238" y1="102.50" x2="335.6" y2="102.50"/>
<line class="grid" x1="238" y1="96.60" x2="335.6" y2="96.60"/>
<line class="grid" x1="238" y1="167.40" x2="335.6" y2="167.40"/>
<line class="grid" x1="238" y1="161.50" x2="335.6" y2="161.50"/>
<line class="grid" x1="238" y1="155.60" x2="335.6" y2="155.60"/>
<line class="grid" x1="238" y1="149.70" x2="335.6" y2="149.70"/>
<line class="grid" x1="238" y1="143.80" x2="335.6" y2="143.80"/>
<line class="grid" x1="238" y1="137.90" x2="335.6" y2="137.90"/>
<path class="c" d="M237.4,131.8 L237.6,131.8 L237.8,131.8 L238.0,131.8 L238.2,131.8 L238.4,131.8 L238.6,131.8 L238.8,131.8 L239.0,131.8 L239.2,131.8 L239.4,131.8 L239.6,131.8 L239.8,131.8 L240.0,131.8 L240.2,131.8 L240.4,131.8 L240.7,131.8 L240.9,131.8 L241.1,131.8 L241.3,131.8 L241.5,131.8 L241.7,131.8 L241.9,131.8 L242.1,131.8 L242.3,131.8 L242.5,131.8 L242.7,131.8 L242.9,131.8 L243.1,131.8 L243.3,131.8 L243.5,131.8 L243.7,131.8 L243.9,131.8 L244.1,131.8 L244.3,131.8 L244.5,131.7 L244.7,131.7 L244.9,131.7 L245.1,131.7 L245.3,131.7 L245.5,131.6 L245.7,131.5 L245.9,131.4 L246.1,131.0 L246.3,130.7 L246.5,130.5 L246.7,129.9 L246.9,129.6 L247.1,129.5 L247.3,128.9 L247.5,128.4 L247.7,128.7 L247.9,128.6 L248.1,128.5 L248.3,128.2 L248.5,127.9 L248.7,128.6 L248.9,128.2 L249.1,128.3 L249.3,129.0 L249.5,128.5 L249.7,128.4 L249.9,128.4 L250.1,128.2 L250.3,129.1 L250.5,128.3 L250.7,128.6 L250.9,128.9 L251.1,128.1 L251.3,128.1 L251.5,128.6 L251.7,128.0 L251.9,128.5 L252.2,128.3 L252.4,128.8 L252.6,127.7 L252.8,129.3 L253.0,128.4 L253.2,128.1 L253.4,129.1 L253.6,128.4 L253.8,128.4 L254.0,128.0 L254.2,127.9 L254.4,128.5 L254.6,128.9 L254.8,127.8 L255.0,127.9 L255.2,128.5 L255.4,128.2 L255.6,128.2 L255.8,128.1 L256.0,128.3 L256.2,127.8 L256.4,129.0 L256.6,127.9 L256.8,128.2 L257.0,128.4 L257.2,127.9 L257.4,129.2 L257.6,127.9 L257.8,128.2 L258.0,128.8 L258.2,128.2 L258.4,128.4 L258.6,127.4 L258.8,127.6 L259.0,128.2 L259.2,128.6 L259.4,128.6 L259.6,128.5 L259.8,128.5 L260.0,128.7 L260.2,128.6 L260.4,128.4 L260.6,128.5 L260.8,128.6 L261.0,128.7 L261.2,127.4 L261.4,128.9 L261.6,128.7 L261.8,128.2 L262.0,128.4 L262.2,128.2 L262.4,128.0 L262.6,127.8 L262.8,128.0 L263.0,128.7 L263.2,127.9 L263.4,129.0 L263.7,128.4 L263.9,128.5 L264.1,128.7 L264.3,128.1 L264.5,128.4 L264.7,127.9 L264.9,128.9 L265.1,128.0 L265.3,128.1 L265.5,128.3 L265.7,128.8 L265.9,128.4 L266.1,128.9 L266.3,129.1 L266.5,127.1 L266.7,127.9 L266.9,127.6 L267.1,128.5 L267.3,128.0 L267.5,128.0 L267.7,128.1 L267.9,128.3 L268.1,128.4 L268.3,129.1 L268.5,128.1 L268.7,128.1 L268.9,127.9 L269.1,128.4 L269.3,127.6 L269.5,128.4 L269.7,128.7 L269.9,127.9 L270.1,128.4 L270.3,128.7 L270.5,128.2 L270.7,128.0 L270.9,128.2 L271.1,128.1 L271.3,126.7 L271.5,127.9 L271.7,127.7 L271.9,129.0 L272.1,128.1 L272.3,127.9 L272.5,128.4 L272.7,128.5 L272.9,128.1 L273.1,128.3 L273.3,128.4 L273.5,127.8 L273.7,127.7 L273.9,128.1 L274.1,128.3 L274.3,128.0 L274.5,127.8 L274.7,127.9 L274.9,128.7 L275.2,128.2 L275.4,128.0 L275.6,127.9 L275.8,127.7 L276.0,127.8 L276.2,128.5 L276.4,128.3 L276.6,128.5 L276.8,127.3 L277.0,127.9 L277.2,127.8 L277.4,127.6 L277.6,128.1 L277.8,128.3 L278.0,128.0 L278.2,127.9 L278.4,127.3 L278.6,127.5 L278.8,128.2 L279.0,127.5 L279.2,127.4 L279.4,128.0 L279.6,127.6 L279.8,128.3 L280.0,127.4 L280.2,127.6 L280.4,127.9 L280.6,127.6 L280.8,127.1 L281.0,127.4 L281.2,127.0 L281.4,126.8 L281.6,127.2 L281.8,126.8 L282.0,125.8 L282.2,126.4 L282.4,126.6 L282.6,126.0 L282.8,126.3 L283.0,125.0 L283.2,124.9 L283.4,124.2 L283.6,123.7 L283.8,123.2 L284.0,122.2 L284.2,121.5 L284.4,120.7 L284.6,119.6 L284.8,117.9 L285.0,117.2 L285.2,113.9 L285.4,113.5 L285.6,111.2 L285.8,110.0 L286.0,108.6 L286.2,106.4 L286.4,105.2 L286.7,104.0 L286.9,104.9 L287.1,106.6 L287.3,107.7 L287.5,109.3 L287.7,111.3 L287.9,113.0 L288.1,114.4 L288.3,116.2 L288.5,117.7 L288.7,120.1 L288.9,120.4 L289.1,121.4 L289.3,122.6 L289.5,123.2 L289.7,123.3 L289.9,124.6 L290.1,124.8 L290.3,125.8 L290.5,126.1 L290.7,126.2 L290.9,126.6 L291.1,126.4 L291.3,126.9 L291.5,126.8 L291.7,127.4 L291.9,127.6 L292.1,127.3 L292.3,127.6 L292.5,127.5 L292.7,127.5 L292.9,127.5 L293.1,127.0 L293.3,127.0 L293.5,127.3 L293.7,127.7 L293.9,127.1 L294.1,128.3 L294.3,128.5 L294.5,127.7 L294.7,127.8 L294.9,127.9 L295.1,127.8 L295.3,128.5 L295.5,128.3 L295.7,127.5 L295.9,127.6 L296.1,128.2 L296.3,127.3 L296.5,128.4 L296.7,128.2 L296.9,127.9 L297.1,128.5 L297.3,128.3 L297.5,128.1 L297.7,128.2 L297.9,127.8 L298.1,127.9 L298.4,128.5 L298.6,128.4 L298.8,128.1 L299.0,128.2 L299.2,128.5 L299.4,128.0 L299.6,127.9 L299.8,128.4 L300.0,127.9 L300.2,128.8 L300.4,128.8 L300.6,128.0 L300.8,128.5 L301.0,128.6 L301.2,128.3 L301.4,128.5 L301.6,128.1 L301.8,128.8 L302.0,128.4 L302.2,127.1 L302.4,128.2 L302.6,129.0 L302.8,128.0 L303.0,128.1 L303.2,127.7 L303.4,128.2 L303.6,128.5 L303.8,127.7 L304.0,128.0 L304.2,129.0 L304.4,128.0 L304.6,128.4 L304.8,127.9 L305.0,128.4 L305.2,128.0 L305.4,128.2 L305.6,128.1 L305.8,128.3 L306.0,128.5 L306.2,128.3 L306.4,128.1 L306.6,128.1 L306.8,127.7 L307.0,128.1 L307.2,128.1 L307.4,127.5 L307.6,128.3 L307.8,128.1 L308.0,128.5 L308.2,128.3 L308.4,127.7 L308.6,128.2 L308.8,127.8 L309.0,128.7 L309.2,128.8 L309.4,128.2 L309.6,128.8 L309.9,127.3 L310.1,127.8 L310.3,128.8 L310.5,128.4 L310.7,128.5 L310.9,128.2 L311.1,128.3 L311.3,128.0 L311.5,127.8 L311.7,128.4 L311.9,128.8 L312.1,128.1 L312.3,128.4 L312.5,127.9 L312.7,128.4 L312.9,128.0 L313.1,128.2 L313.3,128.4 L313.5,128.5 L313.7,128.1 L313.9,127.4 L314.1,128.0 L314.3,128.4 L314.5,128.1 L314.7,128.3 L314.9,128.8 L315.1,128.2 L315.3,127.7 L315.5,128.5 L315.7,128.8 L315.9,128.1 L316.1,127.6 L316.3,128.0 L316.5,128.0 L316.7,127.5 L316.9,127.7 L317.1,128.1 L317.3,128.4 L317.5,128.3 L317.7,128.4 L317.9,128.0 L318.1,128.7 L318.3,127.8 L318.5,128.3 L318.7,128.5 L318.9,128.0 L319.1,129.1 L319.3,128.7 L319.5,128.6 L319.7,128.0 L319.9,128.5 L320.1,127.8 L320.3,128.5 L320.5,128.1 L320.7,128.6 L320.9,127.9 L321.1,128.4 L321.4,128.1 L321.6,128.5 L321.8,128.7 L322.0,128.4 L322.2,127.9 L322.4,128.7 L322.6,128.9 L322.8,128.5 L323.0,128.0 L323.2,128.7 L323.4,128.5 L323.6,128.3 L323.8,128.5 L324.0,128.2 L324.2,127.9 L324.4,128.3 L324.6,128.4 L324.8,128.1 L325.0,128.4 L325.2,128.8 L325.4,128.9 L325.6,129.0 L325.8,128.1 L326.0,129.0 L326.2,129.1 L326.4,129.5 L326.6,130.2 L326.8,130.4 L327.0,130.9 L327.2,131.3 L327.4,131.4 L327.6,131.5 L327.8,131.6 L328.0,131.7 L328.2,131.7 L328.4,131.7 L328.6,131.7 L328.8,131.7 L329.0,131.8 L329.2,131.8 L329.4,131.8 L329.6,131.8 L329.8,131.8 L330.0,131.8 L330.2,131.8 L330.4,131.8 L330.6,131.8 L330.8,131.8 L331.0,131.8 L331.2,131.8 L331.4,131.8 L331.6,131.8 L331.8,131.8 L332.0,131.8 L332.2,131.8 L332.4,131.8 L332.6,131.8 L332.9,131.8 L333.1,131.8 L333.3,131.8 L333.5,131.8 L333.7,131.8 L333.9,131.8 L334.1,131.8 L334.3,131.8 L334.5,131.8 L334.7,131.8 L334.9,131.8 L335.1,131.8 L335.3,131.8 L335.5,131.8 L335.7,131.8 L335.9,131.8" stroke="#ffb24d" stroke-width="0.7" clip-path="url(#ta)"/>
<path class="c" d="M237.4,131.8 L237.6,131.8 L237.8,131.8 L238.0,131.8 L238.2,131.8 L238.4,131.8 L238.6,131.8 L238.8,131.8 L239.0,131.8 L239.2,131.8 L239.4,131.8 L239.6,131.8 L239.8,131.8 L240.0,131.8 L240.2,131.8 L240.4,131.8 L240.7,131.8 L240.9,131.8 L241.1,131.8 L241.3,131.8 L241.5,131.8 L241.7,131.8 L241.9,131.8 L242.1,131.8 L242.3,131.8 L242.5,131.8 L242.7,131.8 L242.9,131.8 L243.1,131.8 L243.3,131.8 L243.5,131.8 L243.7,131.8 L243.9,131.8 L244.1,131.8 L244.3,131.8 L244.5,131.7 L244.7,131.7 L244.9,131.7 L245.1,131.7 L245.3,131.7 L245.5,131.6 L245.7,131.5 L245.9,131.4 L246.1,131.2 L246.3,130.9 L246.5,130.5 L246.7,130.0 L246.9,129.1 L247.1,129.4 L247.3,129.0 L247.5,129.3 L247.7,129.5 L247.9,128.0 L248.1,128.9 L248.3,128.7 L248.5,128.4 L248.7,128.0 L248.9,128.2 L249.1,127.6 L249.3,128.4 L249.5,129.0 L249.7,128.3 L249.9,128.3 L250.1,128.6 L250.3,128.5 L250.5,128.6 L250.7,127.7 L250.9,128.6 L251.1,128.9 L251.3,128.2 L251.5,129.0 L251.7,128.2 L251.9,128.2 L252.2,128.7 L252.4,128.6 L252.6,128.6 L252.8,127.7 L253.0,128.2 L253.2,128.8 L253.4,128.8 L253.6,128.4 L253.8,128.3 L254.0,128.6 L254.2,128.2 L254.4,128.4 L254.6,127.9 L254.8,128.2 L255.0,128.4 L255.2,128.3 L255.4,128.7 L255.6,128.0 L255.8,128.2 L256.0,128.5 L256.2,128.3 L256.4,128.5 L256.6,127.4 L256.8,128.5 L257.0,128.1 L257.2,128.2 L257.4,128.6 L257.6,128.3 L257.8,128.5 L258.0,128.2 L258.2,128.2 L258.4,128.0 L258.6,128.0 L258.8,128.5 L259.0,128.5 L259.2,128.6 L259.4,128.7 L259.6,129.0 L259.8,128.1 L260.0,128.4 L260.2,128.4 L260.4,129.0 L260.6,128.9 L260.8,129.3 L261.0,128.4 L261.2,128.1 L261.4,128.1 L261.6,128.4 L261.8,128.7 L262.0,128.3 L262.2,128.3 L262.4,128.1 L262.6,128.0 L262.8,128.4 L263.0,128.3 L263.2,128.1 L263.4,128.1 L263.7,128.4 L263.9,129.1 L264.1,128.6 L264.3,128.0 L264.5,128.3 L264.7,128.0 L264.9,128.4 L265.1,128.3 L265.3,128.0 L265.5,128.0 L265.7,128.2 L265.9,127.9 L266.1,127.8 L266.3,127.8 L266.5,128.9 L266.7,128.5 L266.9,128.4 L267.1,128.4 L267.3,128.9 L267.5,127.8 L267.7,128.7 L267.9,128.3 L268.1,129.2 L268.3,128.5 L268.5,128.4 L268.7,128.6 L268.9,128.0 L269.1,127.4 L269.3,128.6 L269.5,128.6 L269.7,127.6 L269.9,128.1 L270.1,128.4 L270.3,128.7 L270.5,128.0 L270.7,128.2 L270.9,127.7 L271.1,128.6 L271.3,128.3 L271.5,128.4 L271.7,128.3 L271.9,127.8 L272.1,127.9 L272.3,128.5 L272.5,128.3 L272.7,128.3 L272.9,127.9 L273.1,128.3 L273.3,128.6 L273.5,128.3 L273.7,128.2 L273.9,127.8 L274.1,127.7 L274.3,127.7 L274.5,128.0 L274.7,128.3 L274.9,127.9 L275.2,128.2 L275.4,128.4 L275.6,128.0 L275.8,127.9 L276.0,127.8 L276.2,128.4 L276.4,128.7 L276.6,127.9 L276.8,128.4 L277.0,127.6 L277.2,128.4 L277.4,128.2 L277.6,128.7 L277.8,127.2 L278.0,128.1 L278.2,127.9 L278.4,128.1 L278.6,128.0 L278.8,127.5 L279.0,127.8 L279.2,127.8 L279.4,127.3 L279.6,128.2 L279.8,127.2 L280.0,127.0 L280.2,128.1 L280.4,127.4 L280.6,128.0 L280.8,128.2 L281.0,127.7 L281.2,127.1 L281.4,126.9 L281.6,127.3 L281.8,127.4 L282.0,127.1 L282.2,127.1 L282.4,126.9 L282.6,127.4 L282.8,126.4 L283.0,126.1 L283.2,125.0 L283.4,125.2 L283.6,125.1 L283.8,124.5 L284.0,123.8 L284.2,123.5 L284.4,123.2 L284.6,121.8 L284.8,120.5 L285.0,119.3 L285.2,118.4 L285.4,117.3 L285.6,115.8 L285.8,114.4 L286.0,113.1 L286.2,112.3 L286.4,111.1 L286.7,110.8 L286.9,110.9 L287.1,112.2 L287.3,113.8 L287.5,114.6 L287.7,115.6 L287.9,117.3 L288.1,117.9 L288.3,119.5 L288.5,120.3 L288.7,121.9 L288.9,122.3 L289.1,122.9 L289.3,124.1 L289.5,124.6 L289.7,125.2 L289.9,125.3 L290.1,125.8 L290.3,125.9 L290.5,126.3 L290.7,127.0 L290.9,127.2 L291.1,127.0 L291.3,126.7 L291.5,126.2 L291.7,126.8 L291.9,127.4 L292.1,128.0 L292.3,127.2 L292.5,127.4 L292.7,127.9 L292.9,127.2 L293.1,127.6 L293.3,127.8 L293.5,128.4 L293.7,127.3 L293.9,127.7 L294.1,127.9 L294.3,128.2 L294.5,128.0 L294.7,127.4 L294.9,127.7 L295.1,127.2 L295.3,127.5 L295.5,127.8 L295.7,127.6 L295.9,127.9 L296.1,128.6 L296.3,128.3 L296.5,127.9 L296.7,128.4 L296.9,128.3 L297.1,128.6 L297.3,127.5 L297.5,128.6 L297.7,128.5 L297.9,128.5 L298.1,127.8 L298.4,127.7 L298.6,128.4 L298.8,127.9 L299.0,128.5 L299.2,128.2 L299.4,127.2 L299.6,127.8 L299.8,128.2 L300.0,128.7 L300.2,128.3 L300.4,128.7 L300.6,129.0 L300.8,128.0 L301.0,128.0 L301.2,128.2 L301.4,127.9 L301.6,128.9 L301.8,127.7 L302.0,128.7 L302.2,128.1 L302.4,128.1 L302.6,127.8 L302.8,127.5 L303.0,128.1 L303.2,128.4 L303.4,128.7 L303.6,128.2 L303.8,128.6 L304.0,128.8 L304.2,128.4 L304.4,128.0 L304.6,128.4 L304.8,128.7 L305.0,128.2 L305.2,128.8 L305.4,128.9 L305.6,127.7 L305.8,128.2 L306.0,127.5 L306.2,128.9 L306.4,127.9 L306.6,128.4 L306.8,127.3 L307.0,128.4 L307.2,128.5 L307.4,128.1 L307.6,128.2 L307.8,128.5 L308.0,128.0 L308.2,128.1 L308.4,128.0 L308.6,128.2 L308.8,128.6 L309.0,128.6 L309.2,128.1 L309.4,128.7 L309.6,127.7 L309.9,128.3 L310.1,128.6 L310.3,127.9 L310.5,128.3 L310.7,127.9 L310.9,128.2 L311.1,127.7 L311.3,128.5 L311.5,129.1 L311.7,128.9 L311.9,128.9 L312.1,128.1 L312.3,127.6 L312.5,128.4 L312.7,128.8 L312.9,128.1 L313.1,128.2 L313.3,128.5 L313.5,128.2 L313.7,128.3 L313.9,128.8 L314.1,128.1 L314.3,128.5 L314.5,128.7 L314.7,128.4 L314.9,127.7 L315.1,127.6 L315.3,127.8 L315.5,128.5 L315.7,128.7 L315.9,128.2 L316.1,128.4 L316.3,128.3 L316.5,128.8 L316.7,128.7 L316.9,128.7 L317.1,128.0 L317.3,127.9 L317.5,128.6 L317.7,128.1 L317.9,128.1 L318.1,128.6 L318.3,128.3 L318.5,128.0 L318.7,128.7 L318.9,127.9 L319.1,128.4 L319.3,128.3 L319.5,128.4 L319.7,128.9 L319.9,128.2 L320.1,128.3 L320.3,128.5 L320.5,128.4 L320.7,128.2 L320.9,128.4 L321.1,128.5 L321.4,128.3 L321.6,128.1 L321.8,128.3 L322.0,128.6 L322.2,128.0 L322.4,128.5 L322.6,128.1 L322.8,128.4 L323.0,128.7 L323.2,128.8 L323.4,128.7 L323.6,128.4 L323.8,129.2 L324.0,128.2 L324.2,127.9 L324.4,128.4 L324.6,128.8 L324.8,129.0 L325.0,128.3 L325.2,128.3 L325.4,128.5 L325.6,128.4 L325.8,129.0 L326.0,129.0 L326.2,129.2 L326.4,129.7 L326.6,130.0 L326.8,130.4 L327.0,130.9 L327.2,131.2 L327.4,131.4 L327.6,131.5 L327.8,131.6 L328.0,131.7 L328.2,131.7 L328.4,131.7 L328.6,131.7 L328.8,131.7 L329.0,131.8 L329.2,131.8 L329.4,131.8 L329.6,131.8 L329.8,131.8 L330.0,131.8 L330.2,131.8 L330.4,131.8 L330.6,131.8 L330.8,131.8 L331.0,131.8 L331.2,131.8 L331.4,131.8 L331.6,131.8 L331.8,131.8 L332.0,131.8 L332.2,131.8 L332.4,131.8 L332.6,131.8 L332.9,131.8 L333.1,131.8 L333.3,131.8 L333.5,131.8 L333.7,131.8 L333.9,131.8 L334.1,131.8 L334.3,131.8 L334.5,131.8 L334.7,131.8 L334.9,131.8 L335.1,131.8 L335.3,131.8 L335.5,131.8 L335.7,131.8 L335.9,131.8" stroke="#e8281e" stroke-width="0.7" clip-path="url(#ta)"/>
<path class="c" d="M237.4,131.8 L237.6,131.8 L237.8,131.8 L238.0,131.8 L238.2,131.8 L238.4,131.8 L238.6,131.8 L238.8,131.8 L239.0,131.8 L239.2,131.8 L239.4,131.8 L239.6,131.8 L239.8,131.8 L240.0,131.8 L240.2,131.8 L240.4,131.8 L240.7,131.8 L240.9,131.8 L241.1,131.8 L241.3,131.8 L241.5,131.8 L241.7,131.8 L241.9,131.8 L242.1,131.8 L242.3,131.8 L242.5,131.8 L242.7,131.8 L242.9,131.8 L243.1,131.8 L243.3,131.8 L243.5,131.8 L243.7,131.8 L243.9,131.8 L244.1,131.8 L244.3,131.8 L244.5,131.7 L244.7,131.7 L244.9,131.7 L245.1,131.7 L245.3,131.7 L245.5,131.6 L245.7,131.5 L245.9,131.3 L246.1,131.3 L246.3,130.9 L246.5,130.5 L246.7,129.9 L246.9,129.5 L247.1,129.3 L247.3,128.7 L247.5,128.9 L247.7,128.7 L247.9,128.4 L248.1,128.8 L248.3,127.8 L248.5,128.7 L248.7,128.8 L248.9,128.2 L249.1,129.1 L249.3,128.5 L249.5,128.4 L249.7,127.9 L249.9,127.2 L250.1,128.3 L250.3,128.8 L250.5,128.2 L250.7,128.1 L250.9,128.7 L251.1,128.2 L251.3,127.8 L251.5,128.2 L251.7,128.6 L251.9,128.6 L252.2,129.0 L252.4,128.5 L252.6,128.6 L252.8,127.8 L253.0,128.9 L253.2,128.9 L253.4,128.3 L253.6,128.1 L253.8,128.5 L254.0,128.3 L254.2,128.1 L254.4,128.1 L254.6,128.2 L254.8,128.1 L255.0,128.9 L255.2,128.0 L255.4,128.3 L255.6,128.7 L255.8,128.5 L256.0,128.5 L256.2,128.5 L256.4,128.4 L256.6,128.5 L256.8,128.9 L257.0,127.5 L257.2,128.2 L257.4,127.5 L257.6,128.4 L257.8,127.7 L258.0,128.4 L258.2,127.8 L258.4,128.0 L258.6,128.1 L258.8,128.4 L259.0,128.3 L259.2,127.8 L259.4,129.1 L259.6,128.6 L259.8,128.8 L260.0,128.7 L260.2,128.1 L260.4,128.0 L260.6,128.4 L260.8,127.9 L261.0,128.6 L261.2,128.6 L261.4,128.3 L261.6,128.2 L261.8,128.4 L262.0,128.7 L262.2,128.1 L262.4,127.7 L262.6,128.5 L262.8,128.3 L263.0,128.7 L263.2,128.3 L263.4,128.7 L263.7,128.3 L263.9,127.7 L264.1,128.1 L264.3,128.6 L264.5,128.0 L264.7,129.0 L264.9,127.9 L265.1,128.2 L265.3,128.7 L265.5,128.4 L265.7,128.7 L265.9,127.6 L266.1,128.1 L266.3,128.7 L266.5,128.6 L266.7,128.2 L266.9,128.5 L267.1,128.2 L267.3,128.2 L267.5,128.8 L267.7,128.1 L267.9,127.7 L268.1,128.2 L268.3,128.1 L268.5,128.5 L268.7,128.5 L268.9,128.2 L269.1,128.6 L269.3,128.9 L269.5,128.0 L269.7,128.5 L269.9,128.2 L270.1,128.2 L270.3,128.1 L270.5,128.0 L270.7,128.1 L270.9,128.4 L271.1,127.9 L271.3,128.4 L271.5,128.1 L271.7,128.5 L271.9,128.2 L272.1,128.6 L272.3,127.7 L272.5,128.1 L272.7,128.5 L272.9,128.9 L273.1,128.5 L273.3,127.7 L273.5,128.4 L273.7,127.8 L273.9,128.3 L274.1,128.3 L274.3,128.6 L274.5,128.1 L274.7,127.8 L274.9,127.9 L275.2,128.0 L275.4,128.5 L275.6,128.1 L275.8,128.6 L276.0,128.5 L276.2,128.0 L276.4,128.5 L276.6,127.9 L276.8,128.2 L277.0,127.6 L277.2,128.1 L277.4,127.9 L277.6,127.7 L277.8,127.8 L278.0,127.8 L278.2,128.7 L278.4,127.7 L278.6,128.6 L278.8,128.2 L279.0,128.9 L279.2,128.1 L279.4,128.2 L279.6,128.0 L279.8,128.3 L280.0,128.0 L280.2,128.1 L280.4,127.9 L280.6,127.5 L280.8,128.6 L281.0,127.8 L281.2,127.8 L281.4,128.3 L281.6,127.9 L281.8,127.1 L282.0,127.5 L282.2,127.8 L282.4,127.3 L282.6,127.4 L282.8,127.9 L283.0,127.5 L283.2,127.3 L283.4,127.2 L283.6,127.0 L283.8,127.0 L284.0,126.9 L284.2,127.0 L284.4,126.8 L284.6,126.7 L284.8,126.1 L285.0,126.1 L285.2,126.1 L285.4,125.3 L285.6,124.5 L285.8,125.2 L286.0,124.5 L286.2,124.9 L286.4,124.4 L286.7,124.0 L286.9,124.1 L287.1,123.9 L287.3,125.1 L287.5,125.1 L287.7,124.9 L287.9,125.1 L288.1,126.1 L288.3,126.0 L288.5,125.9 L288.7,126.0 L288.9,127.0 L289.1,126.6 L289.3,127.7 L289.5,126.6 L289.7,126.5 L289.9,127.6 L290.1,127.4 L290.3,127.9 L290.5,127.6 L290.7,127.3 L290.9,127.3 L291.1,127.4 L291.3,128.1 L291.5,127.9 L291.7,127.0 L291.9,127.6 L292.1,127.9 L292.3,127.7 L292.5,128.0 L292.7,127.7 L292.9,128.1 L293.1,128.1 L293.3,128.5 L293.5,127.2 L293.7,127.6 L293.9,127.7 L294.1,127.6 L294.3,128.0 L294.5,128.4 L294.7,127.8 L294.9,127.7 L295.1,127.8 L295.3,128.2 L295.5,128.6 L295.7,127.7 L295.9,127.9 L296.1,128.1 L296.3,128.2 L296.5,128.1 L296.7,128.3 L296.9,128.7 L297.1,128.2 L297.3,128.3 L297.5,128.0 L297.7,128.3 L297.9,128.0 L298.1,128.6 L298.4,128.0 L298.6,127.4 L298.8,128.2 L299.0,127.9 L299.2,127.9 L299.4,128.1 L299.6,128.1 L299.8,128.8 L300.0,128.5 L300.2,127.6 L300.4,128.1 L300.6,128.1 L300.8,127.5 L301.0,128.9 L301.2,127.8 L301.4,128.0 L301.6,129.0 L301.8,128.5 L302.0,128.1 L302.2,128.5 L302.4,128.5 L302.6,128.0 L302.8,128.3 L303.0,128.2 L303.2,128.3 L303.4,128.2 L303.6,128.2 L303.8,127.4 L304.0,128.1 L304.2,128.5 L304.4,128.1 L304.6,128.2 L304.8,127.0 L305.0,128.8 L305.2,128.0 L305.4,128.2 L305.6,127.7 L305.8,128.7 L306.0,128.8 L306.2,128.2 L306.4,128.0 L306.6,128.1 L306.8,128.1 L307.0,128.3 L307.2,127.9 L307.4,128.3 L307.6,128.5 L307.8,127.8 L308.0,128.6 L308.2,128.9 L308.4,128.5 L308.6,128.4 L308.8,128.3 L309.0,128.4 L309.2,128.2 L309.4,128.4 L309.6,128.6 L309.9,127.8 L310.1,128.4 L310.3,127.9 L310.5,128.3 L310.7,128.1 L310.9,127.7 L311.1,129.0 L311.3,127.9 L311.5,128.3 L311.7,128.0 L311.9,128.5 L312.1,128.3 L312.3,128.4 L312.5,128.7 L312.7,128.4 L312.9,127.6 L313.1,127.8 L313.3,127.8 L313.5,128.4 L313.7,128.4 L313.9,128.5 L314.1,129.1 L314.3,128.4 L314.5,128.6 L314.7,128.0 L314.9,128.0 L315.1,128.2 L315.3,128.7 L315.5,128.6 L315.7,127.8 L315.9,128.2 L316.1,128.0 L316.3,128.5 L316.5,128.0 L316.7,128.5 L316.9,128.5 L317.1,128.2 L317.3,128.6 L317.5,128.8 L317.7,127.8 L317.9,128.1 L318.1,128.5 L318.3,128.3 L318.5,127.9 L318.7,128.5 L318.9,129.2 L319.1,127.5 L319.3,128.9 L319.5,128.5 L319.7,129.2 L319.9,129.2 L320.1,128.2 L320.3,128.8 L320.5,128.1 L320.7,128.4 L320.9,128.4 L321.1,128.1 L321.4,128.1 L321.6,127.8 L321.8,128.9 L322.0,128.6 L322.2,128.1 L322.4,128.1 L322.6,128.5 L322.8,128.8 L323.0,128.3 L323.2,129.5 L323.4,129.0 L323.6,127.9 L323.8,128.8 L324.0,127.6 L324.2,128.3 L324.4,128.3 L324.6,127.4 L324.8,128.0 L325.0,128.5 L325.2,128.6 L325.4,128.7 L325.6,129.3 L325.8,128.6 L326.0,129.0 L326.2,129.5 L326.4,129.4 L326.6,130.2 L326.8,130.7 L327.0,131.0 L327.2,131.1 L327.4,131.3 L327.6,131.5 L327.8,131.6 L328.0,131.7 L328.2,131.7 L328.4,131.7 L328.6,131.7 L328.8,131.8 L329.0,131.8 L329.2,131.8 L329.4,131.8 L329.6,131.8 L329.8,131.8 L330.0,131.8 L330.2,131.8 L330.4,131.8 L330.6,131.8 L330.8,131.8 L331.0,131.8 L331.2,131.8 L331.4,131.8 L331.6,131.8 L331.8,131.8 L332.0,131.8 L332.2,131.8 L332.4,131.8 L332.6,131.8 L332.9,131.8 L333.1,131.8 L333.3,131.8 L333.5,131.8 L333.7,131.8 L333.9,131.8 L334.1,131.8 L334.3,131.8 L334.5,131.8 L334.7,131.8 L334.9,131.8 L335.1,131.8 L335.3,131.8 L335.5,131.8 L335.7,131.8 L335.9,131.8" stroke="#6e2c2c" stroke-width="0.7" clip-path="url(#ta)"/>
<path class="c" d="M237.4,167.2 L237.6,167.2 L237.8,167.2 L238.0,167.2 L238.2,167.2 L238.4,167.2 L238.6,167.2 L238.8,167.2 L239.0,167.2 L239.2,167.2 L239.4,167.2 L239.6,167.2 L239.8,167.2 L240.0,167.2 L240.2,167.2 L240.4,167.2 L240.7,167.2 L240.9,167.2 L241.1,167.2 L241.3,167.2 L241.5,167.2 L241.7,167.2 L241.9,167.2 L242.1,167.2 L242.3,167.2 L242.5,167.2 L242.7,167.2 L242.9,167.2 L243.1,167.2 L243.3,167.2 L243.5,167.2 L243.7,167.2 L243.9,167.2 L244.1,167.2 L244.3,167.2 L244.5,167.2 L244.7,167.1 L244.9,167.1 L245.1,167.1 L245.3,167.1 L245.5,167.1 L245.7,167.0 L245.9,166.9 L246.1,166.8 L246.3,166.6 L246.5,166.3 L246.7,165.9 L246.9,165.5 L247.1,165.1 L247.3,164.0 L247.5,163.7 L247.7,163.1 L247.9,162.8 L248.1,161.9 L248.3,162.1 L248.5,161.8 L248.7,161.7 L248.9,161.9 L249.1,161.7 L249.3,162.2 L249.5,162.5 L249.7,162.5 L249.9,162.7 L250.1,162.8 L250.3,163.2 L250.5,163.1 L250.7,163.7 L250.9,163.7 L251.1,163.5 L251.3,163.6 L251.5,164.3 L251.7,163.9 L251.9,164.1 L252.2,163.9 L252.4,164.5 L252.6,164.3 L252.8,164.3 L253.0,164.8 L253.2,164.7 L253.4,164.4 L253.6,164.8 L253.8,164.6 L254.0,164.8 L254.2,165.2 L254.4,164.9 L254.6,164.9 L254.8,165.1 L255.0,164.8 L255.2,165.4 L255.4,165.1 L255.6,165.2 L255.8,165.4 L256.0,165.5 L256.2,165.7 L256.4,165.5 L256.6,165.3 L256.8,165.4 L257.0,165.4 L257.2,165.4 L257.4,165.5 L257.6,165.3 L257.8,165.2 L258.0,165.8 L258.2,165.4 L258.4,165.8 L258.6,164.9 L258.8,165.7 L259.0,165.6 L259.2,165.3 L259.4,165.4 L259.6,165.3 L259.8,165.2 L260.0,165.6 L260.2,165.1 L260.4,165.7 L260.6,165.6 L260.8,165.3 L261.0,166.1 L261.2,165.7 L261.4,165.6 L261.6,165.4 L261.8,165.7 L262.0,165.4 L262.2,165.8 L262.4,165.4 L262.6,165.4 L262.8,165.7 L263.0,165.7 L263.2,165.7 L263.4,165.7 L263.7,165.8 L263.9,165.3 L264.1,165.5 L264.3,165.5 L264.5,166.0 L264.7,165.6 L264.9,165.4 L265.1,165.6 L265.3,165.8 L265.5,165.7 L265.7,165.5 L265.9,165.7 L266.1,166.2 L266.3,165.8 L266.5,165.6 L266.7,166.0 L266.9,165.7 L267.1,165.6 L267.3,165.2 L267.5,165.3 L267.7,165.6 L267.9,166.1 L268.1,165.6 L268.3,166.0 L268.5,165.9 L268.7,165.4 L268.9,165.9 L269.1,165.5 L269.3,165.6 L269.5,165.5 L269.7,165.7 L269.9,165.7 L270.1,165.3 L270.3,165.5 L270.5,165.6 L270.7,165.7 L270.9,165.6 L271.1,165.7 L271.3,165.5 L271.5,165.7 L271.7,166.1 L271.9,166.1 L272.1,165.8 L272.3,165.2 L272.5,165.4 L272.7,165.8 L272.9,165.9 L273.1,165.8 L273.3,165.7 L273.5,165.4 L273.7,165.8 L273.9,166.0 L274.1,165.8 L274.3,166.0 L274.5,165.3 L274.7,165.7 L274.9,165.7 L275.2,165.7 L275.4,166.1 L275.6,165.6 L275.8,165.6 L276.0,165.8 L276.2,165.6 L276.4,165.8 L276.6,165.7 L276.8,165.5 L277.0,165.8 L277.2,165.5 L277.4,165.6 L277.6,165.6 L277.8,165.8 L278.0,165.8 L278.2,165.6 L278.4,165.4 L278.6,165.5 L278.8,165.3 L279.0,165.6 L279.2,166.0 L279.4,165.3 L279.6,165.6 L279.8,165.3 L280.0,165.4 L280.2,165.4 L280.4,165.5 L280.6,166.2 L280.8,165.3 L281.0,165.5 L281.2,165.3 L281.4,165.3 L281.6,165.4 L281.8,165.3 L282.0,165.8 L282.2,165.4 L282.4,165.2 L282.6,165.2 L282.8,165.5 L283.0,165.6 L283.2,165.3 L283.4,165.0 L283.6,164.9 L283.8,164.4 L284.0,164.3 L284.2,164.6 L284.4,164.0 L284.6,163.9 L284.8,163.1 L285.0,162.7 L285.2,161.0 L285.4,159.5 L285.6,156.6 L285.8,152.8 L286.0,147.7 L286.2,142.8 L286.4,138.0 L286.7,134.3 L286.9,138.3 L287.1,142.4 L287.3,147.7 L287.5,152.6 L287.7,156.5 L287.9,159.4 L288.1,161.4 L288.3,162.3 L288.5,163.2 L288.7,163.8 L288.9,164.3 L289.1,164.4 L289.3,164.2 L289.5,164.7 L289.7,165.4 L289.9,165.6 L290.1,165.0 L290.3,165.6 L290.5,165.2 L290.7,165.2 L290.9,165.2 L291.1,165.0 L291.3,165.6 L291.5,165.5 L291.7,165.7 L291.9,165.9 L292.1,165.8 L292.3,165.2 L292.5,165.3 L292.7,165.8 L292.9,165.4 L293.1,165.7 L293.3,165.4 L293.5,165.9 L293.7,165.6 L293.9,165.6 L294.1,165.9 L294.3,165.8 L294.5,165.8 L294.7,165.7 L294.9,165.3 L295.1,165.3 L295.3,165.4 L295.5,165.6 L295.7,165.5 L295.9,166.0 L296.1,165.7 L296.3,165.5 L296.5,165.7 L296.7,165.9 L296.9,165.7 L297.1,165.7 L297.3,165.7 L297.5,165.9 L297.7,165.6 L297.9,165.8 L298.1,166.0 L298.4,165.8 L298.6,165.7 L298.8,165.5 L299.0,165.5 L299.2,166.2 L299.4,165.6 L299.6,165.7 L299.8,165.7 L300.0,165.5 L300.2,165.4 L300.4,165.7 L300.6,165.9 L300.8,166.0 L301.0,165.8 L301.2,165.7 L301.4,166.0 L301.6,165.4 L301.8,165.5 L302.0,165.6 L302.2,165.4 L302.4,165.6 L302.6,165.9 L302.8,165.6 L303.0,165.4 L303.2,165.9 L303.4,166.2 L303.6,165.6 L303.8,166.3 L304.0,166.1 L304.2,165.8 L304.4,166.0 L304.6,165.5 L304.8,165.9 L305.0,165.7 L305.2,165.6 L305.4,165.9 L305.6,165.8 L305.8,166.3 L306.0,165.4 L306.2,165.9 L306.4,165.9 L306.6,166.0 L306.8,165.8 L307.0,166.0 L307.2,165.8 L307.4,166.1 L307.6,166.2 L307.8,166.1 L308.0,166.1 L308.2,165.8 L308.4,165.9 L308.6,166.0 L308.8,165.8 L309.0,166.1 L309.2,165.9 L309.4,166.0 L309.6,165.8 L309.9,166.1 L310.1,166.0 L310.3,165.9 L310.5,166.2 L310.7,165.9 L310.9,165.9 L311.1,165.7 L311.3,166.2 L311.5,166.3 L311.7,166.3 L311.9,165.9 L312.1,166.1 L312.3,166.2 L312.5,165.9 L312.7,165.7 L312.9,165.5 L313.1,165.6 L313.3,166.1 L313.5,165.6 L313.7,166.1 L313.9,165.8 L314.1,165.8 L314.3,166.3 L314.5,165.9 L314.7,165.9 L314.9,165.4 L315.1,166.1 L315.3,165.8 L315.5,166.0 L315.7,165.9 L315.9,166.2 L316.1,165.7 L316.3,165.6 L316.5,165.7 L316.7,166.3 L316.9,166.4 L317.1,166.0 L317.3,165.7 L317.5,165.8 L317.7,166.0 L317.9,166.1 L318.1,165.5 L318.3,165.6 L318.5,166.1 L318.7,166.0 L318.9,166.0 L319.1,165.5 L319.3,165.8 L319.5,165.7 L319.7,166.2 L319.9,165.9 L320.1,166.0 L320.3,165.9 L320.5,165.9 L320.7,166.0 L320.9,166.2 L321.1,165.7 L321.4,166.2 L321.6,166.1 L321.8,166.4 L322.0,165.9 L322.2,165.9 L322.4,166.1 L322.6,166.2 L322.8,165.9 L323.0,166.0 L323.2,166.2 L323.4,165.8 L323.6,165.7 L323.8,165.9 L324.0,165.8 L324.2,165.9 L324.4,165.6 L324.6,165.8 L324.8,166.0 L325.0,165.7 L325.2,165.9 L325.4,166.1 L325.6,166.2 L325.8,166.2 L326.0,166.6 L326.2,166.4 L326.4,166.5 L326.6,166.7 L326.8,166.8 L327.0,166.9 L327.2,167.0 L327.4,167.0 L327.6,167.1 L327.8,167.1 L328.0,167.1 L328.2,167.1 L328.4,167.2 L328.6,167.2 L328.8,167.2 L329.0,167.2 L329.2,167.2 L329.4,167.2 L329.6,167.2 L329.8,167.2 L330.0,167.2 L330.2,167.2 L330.4,167.2 L330.6,167.2 L330.8,167.2 L331.0,167.2 L331.2,167.2 L331.4,167.2 L331.6,167.2 L331.8,167.2 L332.0,167.2 L332.2,167.2 L332.4,167.2 L332.6,167.2 L332.9,167.2 L333.1,167.2 L333.3,167.2 L333.5,167.2 L333.7,167.2 L333.9,167.2 L334.1,167.2 L334.3,167.2 L334.5,167.2 L334.7,167.2 L334.9,167.2 L335.1,167.2 L335.3,167.2 L335.5,167.2 L335.7,167.2 L335.9,167.2" stroke="#6e2c2c" stroke-width="0.7" clip-path="url(#tb)"/>
<path class="c" d="M237.4,167.2 L237.6,167.2 L237.8,167.2 L238.0,167.2 L238.2,167.2 L238.4,167.2 L238.6,167.2 L238.8,167.2 L239.0,167.2 L239.2,167.2 L239.4,167.2 L239.6,167.2 L239.8,167.2 L240.0,167.2 L240.2,167.2 L240.4,167.2 L240.7,167.2 L240.9,167.2 L241.1,167.2 L241.3,167.2 L241.5,167.2 L241.7,167.2 L241.9,167.2 L242.1,167.2 L242.3,167.2 L242.5,167.2 L242.7,167.2 L242.9,167.2 L243.1,167.2 L243.3,167.2 L243.5,167.2 L243.7,167.2 L243.9,167.2 L244.1,167.2 L244.3,167.2 L244.5,167.2 L244.7,167.2 L244.9,167.1 L245.1,167.1 L245.3,167.1 L245.5,167.1 L245.7,167.0 L245.9,166.9 L246.1,166.8 L246.3,166.5 L246.5,166.2 L246.7,166.0 L246.9,165.6 L247.1,165.1 L247.3,164.8 L247.5,164.3 L247.7,164.0 L247.9,163.7 L248.1,163.6 L248.3,163.2 L248.5,162.9 L248.7,162.9 L248.9,163.1 L249.1,163.1 L249.3,162.9 L249.5,163.4 L249.7,163.7 L249.9,163.3 L250.1,163.9 L250.3,163.5 L250.5,163.9 L250.7,164.4 L250.9,164.2 L251.1,164.3 L251.3,164.4 L251.5,164.5 L251.7,164.3 L251.9,164.5 L252.2,164.3 L252.4,164.7 L252.6,164.7 L252.8,164.6 L253.0,164.8 L253.2,165.0 L253.4,164.8 L253.6,165.2 L253.8,165.2 L254.0,165.1 L254.2,164.9 L254.4,164.9 L254.6,165.3 L254.8,165.3 L255.0,165.1 L255.2,165.1 L255.4,165.4 L255.6,165.0 L255.8,165.3 L256.0,165.3 L256.2,165.4 L256.4,165.0 L256.6,165.1 L256.8,165.4 L257.0,165.1 L257.2,165.1 L257.4,165.2 L257.6,165.4 L257.8,165.2 L258.0,165.6 L258.2,165.5 L258.4,165.5 L258.6,165.3 L258.8,165.2 L259.0,165.9 L259.2,165.5 L259.4,165.7 L259.6,165.4 L259.8,165.8 L260.0,165.1 L260.2,165.6 L260.4,165.2 L260.6,165.8 L260.8,165.4 L261.0,165.2 L261.2,165.2 L261.4,165.8 L261.6,165.8 L261.8,165.9 L262.0,165.5 L262.2,165.9 L262.4,165.1 L262.6,165.4 L262.8,165.2 L263.0,165.7 L263.2,165.6 L263.4,165.6 L263.7,165.9 L263.9,165.9 L264.1,165.6 L264.3,165.7 L264.5,165.6 L264.7,165.9 L264.9,165.5 L265.1,165.3 L265.3,165.5 L265.5,165.7 L265.7,165.4 L265.9,165.4 L266.1,165.6 L266.3,165.9 L266.5,166.1 L266.7,165.2 L266.9,165.5 L267.1,165.7 L267.3,165.8 L267.5,166.2 L267.7,165.4 L267.9,165.7 L268.1,165.6 L268.3,165.7 L268.5,165.7 L268.7,165.5 L268.9,166.0 L269.1,165.8 L269.3,165.5 L269.5,165.4 L269.7,165.6 L269.9,165.6 L270.1,165.9 L270.3,165.8 L270.5,165.6 L270.7,165.6 L270.9,165.7 L271.1,165.7 L271.3,166.1 L271.5,166.1 L271.7,165.5 L271.9,165.7 L272.1,165.9 L272.3,165.6 L272.5,164.9 L272.7,165.8 L272.9,165.6 L273.1,165.7 L273.3,165.8 L273.5,165.9 L273.7,165.4 L273.9,165.8 L274.1,166.1 L274.3,165.3 L274.5,165.8 L274.7,165.5 L274.9,165.6 L275.2,165.8 L275.4,165.3 L275.6,165.9 L275.8,165.6 L276.0,165.6 L276.2,166.0 L276.4,165.9 L276.6,165.5 L276.8,165.2 L277.0,165.5 L277.2,166.2 L277.4,165.4 L277.6,166.0 L277.8,165.9 L278.0,165.6 L278.2,165.6 L278.4,165.7 L278.6,165.7 L278.8,165.1 L279.0,166.0 L279.2,165.5 L279.4,165.4 L279.6,165.4 L279.8,166.0 L280.0,165.3 L280.2,165.3 L280.4,165.8 L280.6,165.7 L280.8,165.2 L281.0,165.5 L281.2,165.8 L281.4,165.4 L281.6,165.7 L281.8,165.7 L282.0,165.9 L282.2,165.3 L282.4,165.6 L282.6,165.6 L282.8,165.4 L283.0,165.1 L283.2,165.2 L283.4,164.9 L283.6,165.0 L283.8,164.6 L284.0,164.3 L284.2,164.5 L284.4,164.3 L284.6,164.4 L284.8,163.7 L285.0,162.5 L285.2,161.6 L285.4,160.5 L285.6,157.9 L285.8,154.5 L286.0,150.2 L286.2,145.8 L286.4,141.8 L286.7,138.5 L286.9,141.8 L287.1,146.0 L287.3,150.2 L287.5,155.0 L287.7,157.9 L287.9,160.2 L288.1,161.7 L288.3,162.8 L288.5,163.3 L288.7,163.7 L288.9,164.3 L289.1,164.5 L289.3,164.6 L289.5,165.0 L289.7,165.1 L289.9,165.1 L290.1,165.5 L290.3,165.2 L290.5,165.3 L290.7,165.0 L290.9,165.7 L291.1,165.6 L291.3,165.2 L291.5,165.7 L291.7,165.5 L291.9,165.7 L292.1,165.3 L292.3,165.9 L292.5,165.7 L292.7,165.8 L292.9,165.4 L293.1,165.6 L293.3,166.1 L293.5,165.3 L293.7,166.0 L293.9,165.6 L294.1,165.5 L294.3,165.8 L294.5,165.9 L294.7,166.0 L294.9,166.1 L295.1,165.1 L295.3,165.5 L295.5,165.5 L295.7,166.2 L295.9,165.9 L296.1,166.1 L296.3,165.6 L296.5,165.4 L296.7,165.9 L296.9,166.0 L297.1,165.5 L297.3,166.1 L297.5,165.7 L297.7,165.9 L297.9,165.6 L298.1,165.9 L298.4,166.2 L298.6,165.8 L298.8,166.2 L299.0,165.7 L299.2,165.4 L299.4,165.5 L299.6,166.2 L299.8,166.2 L300.0,166.5 L300.2,166.1 L300.4,166.2 L300.6,166.1 L300.8,165.4 L301.0,165.8 L301.2,165.8 L301.4,166.0 L301.6,165.8 L301.8,165.7 L302.0,165.8 L302.2,165.7 L302.4,165.6 L302.6,166.0 L302.8,166.1 L303.0,165.6 L303.2,166.2 L303.4,165.8 L303.6,165.8 L303.8,165.5 L304.0,166.1 L304.2,166.2 L304.4,165.5 L304.6,166.1 L304.8,166.5 L305.0,166.2 L305.2,165.9 L305.4,165.6 L305.6,165.8 L305.8,165.9 L306.0,166.1 L306.2,165.9 L306.4,165.8 L306.6,166.1 L306.8,165.9 L307.0,165.5 L307.2,166.0 L307.4,166.0 L307.6,166.0 L307.8,165.9 L308.0,166.1 L308.2,165.7 L308.4,165.8 L308.6,165.7 L308.8,166.0 L309.0,165.7 L309.2,165.5 L309.4,166.0 L309.6,166.0 L309.9,165.9 L310.1,166.1 L310.3,166.0 L310.5,165.6 L310.7,165.9 L310.9,166.0 L311.1,166.0 L311.3,166.1 L311.5,165.7 L311.7,166.1 L311.9,165.9 L312.1,165.9 L312.3,166.3 L312.5,166.0 L312.7,165.8 L312.9,166.5 L313.1,166.3 L313.3,165.9 L313.5,166.0 L313.7,165.9 L313.9,165.7 L314.1,165.9 L314.3,165.9 L314.5,165.9 L314.7,166.5 L314.9,166.1 L315.1,166.0 L315.3,165.7 L315.5,166.1 L315.7,165.8 L315.9,165.8 L316.1,166.3 L316.3,166.4 L316.5,165.7 L316.7,166.1 L316.9,165.7 L317.1,165.9 L317.3,165.8 L317.5,166.4 L317.7,165.4 L317.9,166.6 L318.1,166.3 L318.3,165.9 L318.5,165.7 L318.7,165.8 L318.9,165.7 L319.1,166.2 L319.3,165.9 L319.5,165.6 L319.7,166.3 L319.9,166.2 L320.1,165.9 L320.3,165.6 L320.5,165.8 L320.7,166.2 L320.9,166.1 L321.1,166.0 L321.4,166.3 L321.6,165.5 L321.8,166.1 L322.0,166.1 L322.2,166.4 L322.4,165.9 L322.6,166.0 L322.8,165.7 L323.0,165.7 L323.2,166.0 L323.4,165.8 L323.6,165.5 L323.8,166.1 L324.0,166.0 L324.2,165.8 L324.4,166.1 L324.6,165.9 L324.8,166.2 L325.0,165.8 L325.2,165.8 L325.4,166.1 L325.6,166.3 L325.8,166.0 L326.0,166.2 L326.2,166.5 L326.4,166.3 L326.6,166.6 L326.8,166.6 L327.0,166.8 L327.2,166.9 L327.4,167.0 L327.6,167.1 L327.8,167.1 L328.0,167.1 L328.2,167.1 L328.4,167.2 L328.6,167.2 L328.8,167.2 L329.0,167.2 L329.2,167.2 L329.4,167.2 L329.6,167.2 L329.8,167.2 L330.0,167.2 L330.2,167.2 L330.4,167.2 L330.6,167.2 L330.8,167.2 L331.0,167.2 L331.2,167.2 L331.4,167.2 L331.6,167.2 L331.8,167.2 L332.0,167.2 L332.2,167.2 L332.4,167.2 L332.6,167.2 L332.9,167.2 L333.1,167.2 L333.3,167.2 L333.5,167.2 L333.7,167.2 L333.9,167.2 L334.1,167.2 L334.3,167.2 L334.5,167.2 L334.7,167.2 L334.9,167.2 L335.1,167.2 L335.3,167.2 L335.5,167.2 L335.7,167.2 L335.9,167.2" stroke="#f03028" stroke-width="0.7" clip-path="url(#tb)"/>
<rect class="ax" x="238" y="95.7" width="97.6" height="37.6" style="stroke-width:0.4"/>
<rect class="ax" x="238" y="133.3" width="97.6" height="35.2" style="stroke-width:0.4"/>
<text x="237.1" y="127.30" font-size="3.5" text-anchor="end">0.005</text>
<text x="237.1" y="121.40" font-size="3.5" text-anchor="end">0.010</text>
<text x="237.1" y="115.50" font-size="3.5" text-anchor="end">0.015</text>
<text x="237.1" y="109.60" font-size="3.5" text-anchor="end">0.020</text>
<text x="237.1" y="103.70" font-size="3.5" text-anchor="end">0.025</text>
<text x="237.1" y="97.80" font-size="3.5" text-anchor="end">0.030</text>
<text x="237.1" y="168.60" font-size="3.5" text-anchor="end">0.000</text>
<text x="237.1" y="162.70" font-size="3.5" text-anchor="end">0.005</text>
<text x="237.1" y="156.80" font-size="3.5" text-anchor="end">0.010</text>
<text x="237.1" y="150.90" font-size="3.5" text-anchor="end">0.015</text>
<text x="237.1" y="145.00" font-size="3.5" text-anchor="end">0.020</text>
<text x="237.1" y="139.10" font-size="3.5" text-anchor="end">0.025</text>
<text x="246.30" y="172.4" font-size="3.5" text-anchor="middle">150</text>
<text x="266.48" y="172.4" font-size="3.5" text-anchor="middle">200</text>
<text x="286.65" y="172.4" font-size="3.5" text-anchor="middle">250</text>
<text x="306.83" y="172.4" font-size="3.5" text-anchor="middle">300</text>
<text x="327.00" y="172.4" font-size="3.5" text-anchor="middle">350</text>
<text x="287" y="175.8" font-size="3.3" text-anchor="middle">depth (nm)</text>
<text transform="translate(226.6,108.4) rotate(-90)" font-size="2.9" text-anchor="middle">Intensity (A.U.)</text>
<text transform="translate(226.6,147.3) rotate(-90)" font-size="2.9" text-anchor="middle">Intensity (A.U.)</text>
<text x="223.1" y="133.6" font-size="6" style="fill:#0a0a0a">a)</text>
<text x="223.1" y="173.8" font-size="6" style="fill:#0a0a0a">b)</text>
<rect x="294.4" y="97.5" width="37.8" height="12.4" rx="0.6" fill="#fff" fill-opacity="0.9" stroke="#ccc" stroke-width="0.3"/>
<line x1="295.6" y1="100.00" x2="301.1" y2="100.00" stroke="#ffb24d" stroke-width="0.7"/>
<text x="303.5" y="101.05" font-size="2.95">NaOH 100 nm 200°C</text>
<line x1="295.6" y1="103.90" x2="301.1" y2="103.90" stroke="#e8281e" stroke-width="0.7"/>
<text x="303.5" y="104.95" font-size="2.95">NaOH 100 nm 300°C</text>
<line x1="295.6" y1="107.80" x2="301.1" y2="107.80" stroke="#6e2c2c" stroke-width="0.7"/>
<text x="303.5" y="108.85" font-size="2.95">NaOH 100 nm 500°C</text>
<rect x="296.3" y="133.7" width="36.2" height="7.8" rx="0.6" fill="#fff" fill-opacity="0.9" stroke="#ccc" stroke-width="0.3"/>
<line x1="297.6" y1="135.40" x2="303.4" y2="135.40" stroke="#f03028" stroke-width="0.7"/>
<text x="305.4" y="136.45" font-size="3.05">DIW 100 nm 300°C</text>
<line x1="297.6" y1="139.35" x2="303.4" y2="139.35" stroke="#6e2c2c" stroke-width="0.7"/>
<text x="305.4" y="140.40" font-size="3.05">DIW 100 nm 500°C</text>
<rect x="238.5" y="133.4" width="57" height="9.8" fill="#fff"/>
<text class="big" x="240.5" y="141.8">ToF-SIMS</text>
<text x="141.4" y="189" font-size="10" textLength="140.4" lengthAdjust="spacingAndGlyphs" style="fill:#0a0a0a;stroke:#0a0a0a;stroke-width:0.15">NaOH-catalyzed interface sealing</text>
<rect x="89" y="191" width="123.5" height="58" fill="#828282"/>
<rect x="215.2" y="190.4" width="126.6" height="58.6" fill="#828282"/>
<rect x="89" y="191" width="0.8" height="58" fill="#5a5a5a"/><rect x="89" y="248.2" width="123.5" height="0.8" fill="#6a6a6a"/>
<rect x="215.2" y="248.2" width="126.6" height="0.8" fill="#6a6a6a"/><rect x="215.2" y="190.4" width="0.7" height="58.6" fill="#555"/><rect x="211.8" y="191" width="0.7" height="58" fill="#a4a4a4"/>
<line x1="89" y1="212.8" x2="212.5" y2="212.8" stroke="#d23c3c" stroke-width="0.5" stroke-dasharray="0.7,0.7"/><line x1="89" y1="229" x2="212.5" y2="229" stroke="#d23c3c" stroke-width="0.5" stroke-dasharray="0.7,0.7"/>
<line x1="215.5" y1="199.4" x2="341.8" y2="199.4" stroke="#d23c3c" stroke-width="0.5" stroke-dasharray="0.7,0.7"/><line x1="215.5" y1="241.5" x2="341.8" y2="241.5" stroke="#d23c3c" stroke-width="0.5" stroke-dasharray="0.7,0.7"/>
<text x="92" y="200.2" font-size="6.7" style="fill:#0a0a0a;stroke:#0a0a0a;stroke-width:0.12">RT &lt; T &lt;&#160; 100 °C</text>
<text x="217.7" y="197.7" font-size="7" textLength="26.4" lengthAdjust="spacingAndGlyphs" style="fill:#0a0a0a;stroke:#0a0a0a;stroke-width:0.12">T =&#160; 300 °C</text>
<line x1="94.5" y1="213.6" x2="94.5" y2="228.4" stroke="#111" stroke-width="0.6" marker-start="url(#ah)" marker-end="url(#ah)"/>
<text x="95.6" y="223.2" font-size="4.9" style="fill:#111;stroke:#111;stroke-width:0.12">~9 Å</text>
<line x1="222.5" y1="200.2" x2="222.5" y2="240.8" stroke="#111" stroke-width="0.6" marker-start="url(#ah)" marker-end="url(#ah)"/>
<text x="224.6" y="222" font-size="4.9" textLength="12" lengthAdjust="spacingAndGlyphs" style="fill:#111;stroke:#111;stroke-width:0.12">~ 70 Å</text>
<path d="M89,216.7 C90.5,217.6 92.4,219.6 92.4,221 C92.4,222.4 90.5,224.4 89,225.3z" fill="#2752b8"/>
<path d="M107.4,222.4 C107.3,220 109,218.6 111,218.6 C113.2,218.7 115.5,221.2 117.7,221.7 C116.2,223.6 113.2,228.9 111.4,229.1 C109.6,229 107.6,225 107.4,222.4z" fill="#2752b8"/>
<path d="M126.7,221.5 C130.5,220.6 135.5,219.2 139,218.3 C140.2,218.4 141,219 141,219.6 C140,221.4 138.5,223.4 137,224.2 C135.6,225 134,225.4 133,225.3 C131,225 128.6,223.2 126.7,221.5z" fill="#2752b8"/>
<path d="M160.7,221 C163,219.6 165.5,216 168,215.3 C169.6,215 171.2,215.2 172,215.8 C173.4,217 175,219 176.4,220.3 C175,222 173.4,224.4 171.5,225 C169.5,225.5 167,225.2 165.5,224.3 C163.8,223.3 162.2,222 160.7,221z" fill="#2752b8"/>
<path d="M191.4,220 C193.5,219 195.6,218.4 196.5,217.5 C197.6,216 198.4,213.2 199.3,212.4 C200.3,212.6 201.2,213.4 202,214.2 C203,215.2 204.2,216.6 205,217.4 C204.4,218.4 203.8,219.2 203,220 C201.8,221.4 200.2,223.6 199,223.9 C197.8,223.7 196.8,222.7 196,222.2 C194.6,221.4 193,220.7 191.4,220z" fill="#2752b8"/>
<path d="M121.4,220.14999999999998 L126.30000000000001,220.14999999999998 L126.30000000000001,218.7 L130.3,220.7 L126.30000000000001,222.7 L126.30000000000001,221.25 L121.4,221.25z" fill="#f41414"/>
<path d="M143.9,219.35 L138.9,219.35 L138.9,217.9 L134.9,219.9 L138.9,221.9 L138.9,220.45000000000002 L143.9,220.45000000000002z" fill="#f41414"/>
<path d="M155,220.04999999999998 L160.3,220.04999999999998 L160.3,218.6 L164.3,220.6 L160.3,222.6 L160.3,221.15 L155,221.15z" fill="#f41414"/>
<path d="M180,220.04999999999998 L174.7,220.04999999999998 L174.7,218.6 L170.7,220.6 L174.7,222.6 L174.7,221.15 L180,221.15z" fill="#f41414"/>
<path d="M186.9,219.35 L191.7,219.35 L191.7,217.9 L195.7,219.9 L191.7,221.9 L191.7,220.45000000000002 L186.9,220.45000000000002z" fill="#f41414"/>
<path d="M209.7,218.04999999999998 L204.7,218.04999999999998 L204.7,216.6 L200.7,218.6 L204.7,220.6 L204.7,219.15 L209.7,219.15z" fill="#f41414"/>
<path d="M257.84,215.67 C258.01,214.29 259.39,212.92 260.32,211.54 C261.25,210.16 262.21,208.79 263.41,207.41 C264.62,206.04 266.16,204.32 267.54,203.29 C268.92,202.25 270.12,201.74 271.67,201.22 C273.22,200.71 275.35,200.29 276.83,200.19 C278.31,200.09 279.58,200.19 280.54,200.60 C281.50,201.02 281.68,201.53 282.60,202.67 C283.53,203.80 284.84,205.76 286.11,207.41 C287.38,209.06 288.86,210.96 290.24,212.57 C291.62,214.19 293.51,215.91 294.37,217.11 C295.23,218.32 295.40,218.66 295.40,219.79 C295.40,220.93 294.88,222.72 294.37,223.92 C293.85,225.13 293.33,225.99 292.30,227.02 C291.27,228.05 289.72,229.08 288.18,230.11 C286.63,231.14 284.74,232.00 283.02,233.21 C281.30,234.41 279.30,236.23 277.86,237.33 C276.41,238.44 275.55,239.40 274.35,239.81 C273.15,240.22 271.67,240.22 270.64,239.81 C269.60,239.40 269.12,238.61 268.16,237.33 C267.20,236.06 265.89,234.07 264.86,232.18 C263.83,230.28 262.90,228.05 261.97,225.99 C261.04,223.92 259.97,221.51 259.29,219.79 C258.60,218.07 257.67,217.04 257.84,215.67z" fill="#2752b8"/>
<circle cx="314.3" cy="220" r="0.35" fill="#b0b0b0"/>
</svg></body></html>
